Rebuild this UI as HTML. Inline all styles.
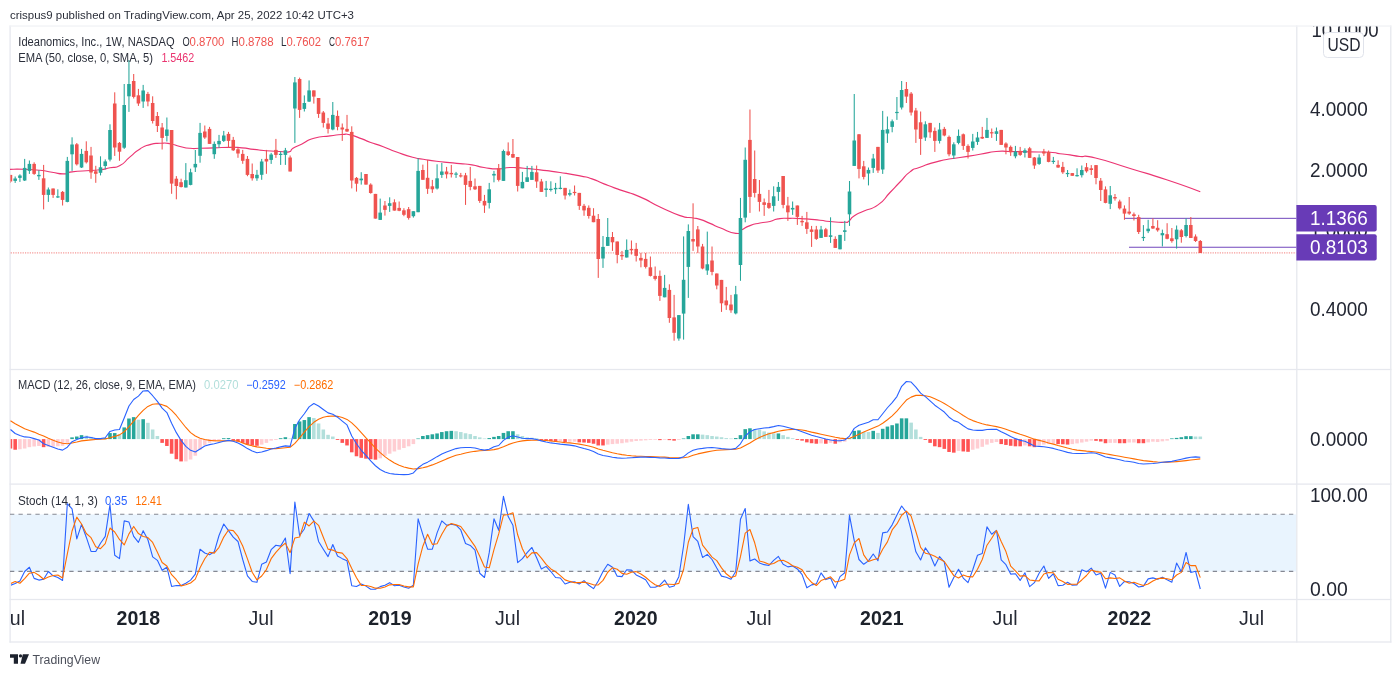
<!DOCTYPE html>
<html><head><meta charset="utf-8"><title>chart</title>
<style>
html,body{margin:0;padding:0;background:#fff;}
svg{display:block;font-family:"Liberation Sans",sans-serif;}
</style></head>
<body>
<svg width="1400" height="676" viewBox="0 0 1400 676">
<defs><filter id="bl" x="0" y="0" width="100%" height="100%" filterUnits="userSpaceOnUse"><feGaussianBlur stdDeviation="0.35"/></filter></defs>
<rect width="1400" height="676" fill="#ffffff"/>
<g filter="url(#bl)">
<rect width="1400" height="676" fill="#ffffff"/>
<rect x="10.7" y="514.4" width="1285.5" height="57.1" fill="#e9f4fe"/>
<rect x="9.45" y="25.5" width="1.3" height="617.1" fill="#e6e8ee"/>
<rect x="1390.15" y="25.5" width="1.3" height="617.1" fill="#e6e8ee"/>
<rect x="1296.15" y="25.5" width="1.3" height="617.1" fill="#e6e8ee"/>
<rect x="9.5" y="641.35" width="1381.9" height="1.3" fill="#e6e8ee"/>
<rect x="9.5" y="368.85" width="1381.9" height="1.3" fill="#e6e8ee"/>
<rect x="9.5" y="483.45" width="1381.9" height="1.3" fill="#e6e8ee"/>
<rect x="9.5" y="598.85" width="1381.9" height="1.3" fill="#e6e8ee"/>
<rect x="9.5" y="25.4" width="1381.9" height="1.3" fill="#f1f2f6"/>
<g stroke="#858893" stroke-width="1.1" stroke-dasharray="4.3 4.17">
<line x1="10" y1="514.3" x2="1296.2" y2="514.3"/>
<line x1="10" y1="571.4" x2="1296.2" y2="571.4"/>
</g>
<line x1="10.7" y1="252.8" x2="1296.2" y2="252.8" stroke="#ef5350" stroke-width="1.19" stroke-dasharray="1.19 1.19" opacity="0.6"/>
<g fill="#673ab7" opacity="0.78">
<rect x="1124.4" y="217.8" width="171.89999999999986" height="1.19"/>
<rect x="1129" y="246.7" width="167.29999999999995" height="1.19"/>
</g>
<path d="M10,169.3 C14.67,169.3 14,168.97 24,169.3 C34,169.63 30.67,169.3 40,170.3 C49.33,171.3 44,171.1 52,172.3 C60,173.5 57.33,174.03 64,173.9 C70.67,173.77 63.33,173.03 72,171.9 C80.67,170.77 80.67,171.2 90,170.5 C99.33,169.8 93.33,170.7 100,169.8 C106.67,168.9 103.33,169.23 110,167.8 C116.67,166.37 113.33,169.13 120,165.5 C126.67,161.87 123.33,162.43 130,156.9 C136.67,151.37 133.33,153 140,148.9 C146.67,144.8 143.33,146.47 150,144.6 C156.67,142.73 153.33,143.6 160,143.3 C166.67,143 163.33,142.63 170,143.7 C176.67,144.77 173.33,144.97 180,146.5 C186.67,148.03 183.33,147.7 190,148.3 C196.67,148.9 192,148.43 200,148.3 C208,148.17 204,148.23 214,147.9 C224,147.57 220.67,147.3 230,147.3 C239.33,147.3 234,147.2 242,147.9 C250,148.6 246,148.47 254,149.4 C262,150.33 257.33,150 266,150.7 C274.67,151.4 272.33,151.1 280,151.5 C287.67,151.9 284.67,152.97 289,151.9 C293.33,150.83 288.67,150.97 293,148.3 C297.33,145.63 295,147.23 302,143.9 C309,140.57 304.67,140.97 314,138.3 C323.33,135.63 320.67,137.17 330,135.9 C339.33,134.63 335.33,134.83 342,134.5 C348.67,134.17 343.33,133.43 350,134.9 C356.67,136.37 355.33,136.47 362,138.9 C368.67,141.33 362.9,139.6 370,142.2 C377.1,144.8 374.43,143.43 383.3,146.7 C392.17,149.97 386.83,148.47 396.6,152 C406.37,155.53 403.73,154.9 412.6,157.3 C421.47,159.7 415.23,157.87 423.2,159.2 C431.17,160.53 427.63,160.17 436.5,161.3 C445.37,162.43 441.97,161.83 449.8,162.6 C457.63,163.37 452.6,162.83 460,163.6 C467.4,164.37 464,163.6 472,164.9 C480,166.2 475.33,166.17 484,167.5 C492.67,168.83 489.33,168.9 498,168.9 C506.67,168.9 501.33,167.7 510,167.5 C518.67,167.3 514,167.5 524,168.3 C534,169.1 528,168.5 540,169.9 C552,171.3 546.67,170.5 560,172.5 C573.33,174.5 569.33,173.77 580,175.9 C590.67,178.03 584,176.23 592,178.9 C600,181.57 594.67,180.23 604,183.9 C613.33,187.57 608,185.57 620,189.9 C632,194.23 626.67,191.23 640,196.9 C653.33,202.57 646.67,200.67 660,206.9 C673.33,213.13 669.33,211.97 680,215.6 C690.67,219.23 685.33,216.53 692,217.8 C698.67,219.07 694,217.53 700,219.4 C706,221.27 703.33,220.6 710,223.4 C716.67,226.2 711.4,224.47 720,227.8 C728.6,231.13 728.53,232.73 735.8,233.4 C743.07,234.07 737.07,232.4 741.8,229.8 C746.53,227.2 743.93,227.87 750,225.6 C756.07,223.33 753.33,224.37 760,223 C766.67,221.63 764,222.87 770,221.5 C776,220.13 771.33,219.97 778,218.9 C784.67,217.83 780.67,218.3 790,218.3 C799.33,218.3 796,218.23 806,218.9 C816,219.57 812,219.43 820,220.3 C828,221.17 822,220.83 830,221.5 C838,222.17 837.67,222.5 844,222.3 C850.33,222.1 845.67,223.03 849,220.9 C852.33,218.77 849,219.23 854,215.9 C859,212.57 856,214.57 864,210.9 C872,207.23 869.33,211.03 878,204.9 C886.67,198.77 882.67,200.13 890,192.5 C897.33,184.87 893.33,188.87 900,182 C906.67,175.13 903.33,176.83 910,171.9 C916.67,166.97 910,170.87 920,167.2 C930,163.53 926.67,164.13 940,160.9 C953.33,157.67 946.67,159.7 960,157.5 C973.33,155.3 968,156.3 980,154.3 C992,152.3 986,152.43 996,151.5 C1006,150.57 998.67,151.37 1010,151.5 C1021.33,151.63 1016.67,151.63 1030,151.9 C1043.33,152.17 1040,151.7 1050,152.3 C1060,152.9 1053.33,152.83 1060,153.7 C1066.67,154.57 1063.33,153.97 1070,154.9 C1076.67,155.83 1071.5,155.47 1080,156.5 C1088.5,157.53 1078.5,153.93 1095.5,158 C1112.5,162.07 1107.3,161.43 1131,168.7 C1154.7,175.97 1143.5,172.13 1166.6,179.8 C1189.7,187.47 1189.07,187.73 1200.3,191.7" fill="none" stroke="#e91e63" stroke-width="1.15" stroke-linejoin="round" opacity="0.9"/>
<clipPath id="cm"><rect x="10.6" y="26" width="1286" height="343"/></clipPath>
<g clip-path="url(#cm)">
<rect x="1199.77" y="240" width="1.05" height="13" fill="#ef5350"/>
<rect x="1198.52" y="241" width="3.56" height="12" fill="#ef5350"/>
<rect x="1195.03" y="234.4" width="1.05" height="7.6" fill="#ef5350"/>
<rect x="1193.78" y="236.5" width="3.56" height="4.5" fill="#ef5350"/>
<rect x="1190.29" y="217" width="1.05" height="21" fill="#ef5350"/>
<rect x="1189.04" y="225" width="3.56" height="13" fill="#ef5350"/>
<rect x="1185.55" y="218.4" width="1.05" height="19" fill="#26a69a"/>
<rect x="1184.3" y="225" width="3.56" height="11" fill="#26a69a"/>
<rect x="1180.81" y="229" width="1.05" height="13.7" fill="#ef5350"/>
<rect x="1179.56" y="230.3" width="3.56" height="6.7" fill="#ef5350"/>
<rect x="1176.07" y="225.5" width="1.05" height="23.1" fill="#26a69a"/>
<rect x="1174.82" y="229.6" width="3.56" height="9.7" fill="#26a69a"/>
<rect x="1171.33" y="228" width="1.05" height="14.7" fill="#ef5350"/>
<rect x="1170.08" y="238.3" width="3.56" height="2.8" fill="#ef5350"/>
<rect x="1166.59" y="223.2" width="1.05" height="16.1" fill="#ef5350"/>
<rect x="1165.34" y="234.2" width="3.56" height="4.6" fill="#ef5350"/>
<rect x="1161.85" y="229.6" width="1.05" height="16.8" fill="#26a69a"/>
<rect x="1160.6" y="233.1" width="3.56" height="2.2" fill="#26a69a"/>
<rect x="1157.11" y="220.2" width="1.05" height="11.5" fill="#ef5350"/>
<rect x="1155.86" y="227.8" width="3.56" height="2.5" fill="#ef5350"/>
<rect x="1152.37" y="218.4" width="1.05" height="10.6" fill="#ef5350"/>
<rect x="1151.12" y="226" width="3.56" height="2.5" fill="#ef5350"/>
<rect x="1147.63" y="219.8" width="1.05" height="13.3" fill="#26a69a"/>
<rect x="1146.38" y="228.7" width="3.56" height="2.5" fill="#26a69a"/>
<rect x="1142.89" y="225.1" width="1.05" height="15.9" fill="#26a69a"/>
<rect x="1141.64" y="236.9" width="3.56" height="1.2" fill="#26a69a"/>
<rect x="1138.15" y="214.8" width="1.05" height="19.2" fill="#ef5350"/>
<rect x="1136.9" y="217.1" width="3.56" height="14.9" fill="#ef5350"/>
<rect x="1133.41" y="212.5" width="1.05" height="8" fill="#ef5350"/>
<rect x="1132.15" y="214.3" width="3.56" height="1.7" fill="#ef5350"/>
<rect x="1128.67" y="197" width="1.05" height="17.8" fill="#ef5350"/>
<rect x="1127.41" y="211.6" width="3.56" height="2" fill="#ef5350"/>
<rect x="1123.93" y="205.4" width="1.05" height="14.4" fill="#ef5350"/>
<rect x="1122.67" y="208.6" width="3.56" height="5" fill="#ef5350"/>
<rect x="1119.19" y="199.7" width="1.05" height="9.8" fill="#ef5350"/>
<rect x="1117.93" y="201.5" width="3.56" height="6.8" fill="#ef5350"/>
<rect x="1114.45" y="194" width="1.05" height="6.6" fill="#ef5350"/>
<rect x="1113.19" y="197" width="3.56" height="1.5" fill="#ef5350"/>
<rect x="1109.71" y="186" width="1.05" height="23.1" fill="#26a69a"/>
<rect x="1108.45" y="195.3" width="3.56" height="8.5" fill="#26a69a"/>
<rect x="1104.96" y="186.4" width="1.05" height="16.9" fill="#ef5350"/>
<rect x="1103.71" y="189.4" width="3.56" height="13.5" fill="#ef5350"/>
<rect x="1100.22" y="178" width="1.05" height="23" fill="#ef5350"/>
<rect x="1098.97" y="180.7" width="3.56" height="9.3" fill="#ef5350"/>
<rect x="1095.48" y="165.1" width="1.05" height="19.2" fill="#ef5350"/>
<rect x="1094.23" y="165.1" width="3.56" height="12.9" fill="#ef5350"/>
<rect x="1090.74" y="165.1" width="1.05" height="9.8" fill="#ef5350"/>
<rect x="1089.49" y="168.3" width="3.56" height="1.7" fill="#ef5350"/>
<rect x="1086" y="163" width="1.05" height="9.7" fill="#ef5350"/>
<rect x="1084.75" y="167.2" width="3.56" height="4.1" fill="#ef5350"/>
<rect x="1081.26" y="165.5" width="1.05" height="12" fill="#26a69a"/>
<rect x="1080.01" y="170" width="3.56" height="5.2" fill="#26a69a"/>
<rect x="1076.52" y="168.3" width="1.05" height="8.3" fill="#26a69a"/>
<rect x="1075.27" y="175.05" width="3.56" height="1.2" fill="#26a69a"/>
<rect x="1071.78" y="173.1" width="1.05" height="2.7" fill="#ef5350"/>
<rect x="1070.53" y="173.1" width="3.56" height="2.7" fill="#ef5350"/>
<rect x="1067.04" y="170" width="1.05" height="7" fill="#26a69a"/>
<rect x="1065.79" y="172.95" width="3.56" height="1.2" fill="#26a69a"/>
<rect x="1062.3" y="161.9" width="1.05" height="12" fill="#ef5350"/>
<rect x="1061.05" y="166.9" width="3.56" height="5.4" fill="#ef5350"/>
<rect x="1057.56" y="160.3" width="1.05" height="7.6" fill="#ef5350"/>
<rect x="1056.31" y="164.9" width="3.56" height="2.6" fill="#ef5350"/>
<rect x="1052.82" y="156.9" width="1.05" height="7" fill="#26a69a"/>
<rect x="1051.57" y="160.8" width="3.56" height="1.2" fill="#26a69a"/>
<rect x="1048.08" y="150.5" width="1.05" height="11.8" fill="#ef5350"/>
<rect x="1046.83" y="151.9" width="3.56" height="10" fill="#ef5350"/>
<rect x="1043.34" y="148.9" width="1.05" height="7" fill="#ef5350"/>
<rect x="1042.09" y="151.5" width="3.56" height="2" fill="#ef5350"/>
<rect x="1038.6" y="154.3" width="1.05" height="10.6" fill="#26a69a"/>
<rect x="1037.34" y="157.5" width="3.56" height="6.4" fill="#26a69a"/>
<rect x="1033.86" y="157" width="1.05" height="11.9" fill="#ef5350"/>
<rect x="1032.6" y="157.5" width="3.56" height="8" fill="#ef5350"/>
<rect x="1029.12" y="146.9" width="1.05" height="11" fill="#ef5350"/>
<rect x="1027.86" y="148.3" width="3.56" height="9.6" fill="#ef5350"/>
<rect x="1024.38" y="148.3" width="1.05" height="9.2" fill="#26a69a"/>
<rect x="1023.12" y="150.3" width="3.56" height="2.6" fill="#26a69a"/>
<rect x="1019.64" y="146.9" width="1.05" height="9" fill="#ef5350"/>
<rect x="1018.38" y="150.9" width="3.56" height="4" fill="#ef5350"/>
<rect x="1014.9" y="145.9" width="1.05" height="12.4" fill="#26a69a"/>
<rect x="1013.64" y="151.5" width="3.56" height="4.8" fill="#26a69a"/>
<rect x="1010.15" y="145.5" width="1.05" height="10.4" fill="#ef5350"/>
<rect x="1008.9" y="146.9" width="3.56" height="5.4" fill="#ef5350"/>
<rect x="1005.41" y="142.3" width="1.05" height="12" fill="#ef5350"/>
<rect x="1004.16" y="143.5" width="3.56" height="4" fill="#ef5350"/>
<rect x="1000.67" y="129.9" width="1.05" height="15" fill="#ef5350"/>
<rect x="999.42" y="129.9" width="3.56" height="15" fill="#ef5350"/>
<rect x="995.93" y="127.5" width="1.05" height="13.4" fill="#26a69a"/>
<rect x="994.68" y="131.3" width="3.56" height="2.6" fill="#26a69a"/>
<rect x="991.19" y="128.5" width="1.05" height="9.4" fill="#ef5350"/>
<rect x="989.94" y="132.2" width="3.56" height="1.2" fill="#ef5350"/>
<rect x="986.45" y="117.9" width="1.05" height="20" fill="#26a69a"/>
<rect x="985.2" y="129.9" width="3.56" height="8" fill="#26a69a"/>
<rect x="981.71" y="126.9" width="1.05" height="12.1" fill="#ef5350"/>
<rect x="980.46" y="136.9" width="3.56" height="1.6" fill="#ef5350"/>
<rect x="976.97" y="131.9" width="1.05" height="13" fill="#26a69a"/>
<rect x="975.72" y="137.5" width="3.56" height="4.4" fill="#26a69a"/>
<rect x="972.23" y="133.9" width="1.05" height="16.6" fill="#26a69a"/>
<rect x="970.98" y="141.5" width="3.56" height="6.4" fill="#26a69a"/>
<rect x="967.49" y="144.3" width="1.05" height="14.2" fill="#ef5350"/>
<rect x="966.24" y="145.9" width="3.56" height="6" fill="#ef5350"/>
<rect x="962.75" y="133.5" width="1.05" height="16.4" fill="#ef5350"/>
<rect x="961.5" y="134.3" width="3.56" height="11.6" fill="#ef5350"/>
<rect x="958.01" y="129.5" width="1.05" height="14.8" fill="#26a69a"/>
<rect x="956.76" y="135.9" width="3.56" height="7" fill="#26a69a"/>
<rect x="953.27" y="142.3" width="1.05" height="16.6" fill="#26a69a"/>
<rect x="952.02" y="144.3" width="3.56" height="11.2" fill="#26a69a"/>
<rect x="948.53" y="135.5" width="1.05" height="20.8" fill="#ef5350"/>
<rect x="947.28" y="136.9" width="3.56" height="17.4" fill="#ef5350"/>
<rect x="943.79" y="126.9" width="1.05" height="9.4" fill="#ef5350"/>
<rect x="942.53" y="128.9" width="3.56" height="6.6" fill="#ef5350"/>
<rect x="939.05" y="122.9" width="1.05" height="20.6" fill="#26a69a"/>
<rect x="937.79" y="129.5" width="3.56" height="11.4" fill="#26a69a"/>
<rect x="934.31" y="127.5" width="1.05" height="24.4" fill="#ef5350"/>
<rect x="933.05" y="130.9" width="3.56" height="10" fill="#ef5350"/>
<rect x="929.57" y="122.9" width="1.05" height="15" fill="#ef5350"/>
<rect x="928.31" y="122.9" width="3.56" height="9.4" fill="#ef5350"/>
<rect x="924.83" y="121.3" width="1.05" height="19.6" fill="#26a69a"/>
<rect x="923.57" y="124.3" width="3.56" height="13.2" fill="#26a69a"/>
<rect x="920.09" y="111.5" width="1.05" height="43.4" fill="#ef5350"/>
<rect x="918.83" y="122.3" width="3.56" height="16.6" fill="#ef5350"/>
<rect x="915.34" y="107.9" width="1.05" height="35" fill="#ef5350"/>
<rect x="914.09" y="110.5" width="3.56" height="19" fill="#ef5350"/>
<rect x="910.6" y="92" width="1.05" height="23.5" fill="#ef5350"/>
<rect x="909.35" y="93.6" width="3.56" height="18.9" fill="#ef5350"/>
<rect x="905.86" y="82" width="1.05" height="21" fill="#ef5350"/>
<rect x="904.61" y="89" width="3.56" height="7.6" fill="#ef5350"/>
<rect x="901.12" y="81" width="1.05" height="28.5" fill="#26a69a"/>
<rect x="899.87" y="90" width="3.56" height="17.5" fill="#26a69a"/>
<rect x="896.38" y="97" width="1.05" height="22.9" fill="#26a69a"/>
<rect x="895.13" y="111.9" width="3.56" height="1.2" fill="#26a69a"/>
<rect x="891.64" y="119.5" width="1.05" height="12.8" fill="#26a69a"/>
<rect x="890.39" y="121.3" width="3.56" height="5.6" fill="#26a69a"/>
<rect x="886.9" y="116.5" width="1.05" height="26.4" fill="#26a69a"/>
<rect x="885.65" y="129.3" width="3.56" height="4.2" fill="#26a69a"/>
<rect x="882.16" y="110.9" width="1.05" height="63" fill="#26a69a"/>
<rect x="880.91" y="129.9" width="3.56" height="39.6" fill="#26a69a"/>
<rect x="877.42" y="146.9" width="1.05" height="26" fill="#ef5350"/>
<rect x="876.17" y="146.9" width="3.56" height="23.6" fill="#ef5350"/>
<rect x="872.68" y="153.9" width="1.05" height="19" fill="#26a69a"/>
<rect x="871.43" y="158.5" width="3.56" height="9.4" fill="#26a69a"/>
<rect x="867.94" y="167.5" width="1.05" height="17.9" fill="#26a69a"/>
<rect x="866.69" y="169.9" width="3.56" height="3.6" fill="#26a69a"/>
<rect x="863.2" y="160.9" width="1.05" height="18.5" fill="#ef5350"/>
<rect x="861.95" y="166.3" width="3.56" height="10.6" fill="#ef5350"/>
<rect x="858.46" y="134" width="1.05" height="44.4" fill="#ef5350"/>
<rect x="857.21" y="134.3" width="3.56" height="34.6" fill="#ef5350"/>
<rect x="853.72" y="94" width="1.05" height="71.9" fill="#26a69a"/>
<rect x="852.47" y="140.5" width="3.56" height="25.4" fill="#26a69a"/>
<rect x="848.98" y="181" width="1.05" height="44.9" fill="#26a69a"/>
<rect x="847.72" y="191.5" width="3.56" height="22.8" fill="#26a69a"/>
<rect x="844.24" y="220.9" width="1.05" height="20" fill="#26a69a"/>
<rect x="842.98" y="230.3" width="3.56" height="1.6" fill="#26a69a"/>
<rect x="839.5" y="234.9" width="1.05" height="14.4" fill="#26a69a"/>
<rect x="838.24" y="234.9" width="3.56" height="14.4" fill="#26a69a"/>
<rect x="834.76" y="236.3" width="1.05" height="11.6" fill="#ef5350"/>
<rect x="833.5" y="238.9" width="3.56" height="9" fill="#ef5350"/>
<rect x="830.02" y="217.3" width="1.05" height="25.6" fill="#26a69a"/>
<rect x="828.76" y="235.3" width="3.56" height="1.6" fill="#26a69a"/>
<rect x="825.28" y="227.9" width="1.05" height="9" fill="#ef5350"/>
<rect x="824.02" y="229.3" width="3.56" height="7.6" fill="#ef5350"/>
<rect x="820.53" y="225.9" width="1.05" height="12" fill="#26a69a"/>
<rect x="819.28" y="229.5" width="3.56" height="8.4" fill="#26a69a"/>
<rect x="815.79" y="225.9" width="1.05" height="14" fill="#ef5350"/>
<rect x="814.54" y="229.5" width="3.56" height="9.4" fill="#ef5350"/>
<rect x="811.05" y="225.9" width="1.05" height="21" fill="#ef5350"/>
<rect x="809.8" y="229.5" width="3.56" height="2.4" fill="#ef5350"/>
<rect x="806.31" y="211.9" width="1.05" height="22" fill="#ef5350"/>
<rect x="805.06" y="222.3" width="3.56" height="6.6" fill="#ef5350"/>
<rect x="801.57" y="215.9" width="1.05" height="10" fill="#ef5350"/>
<rect x="800.32" y="220.9" width="3.56" height="1.4" fill="#ef5350"/>
<rect x="796.83" y="205.5" width="1.05" height="19.4" fill="#ef5350"/>
<rect x="795.58" y="205.5" width="3.56" height="11.4" fill="#ef5350"/>
<rect x="792.09" y="201.5" width="1.05" height="13.4" fill="#26a69a"/>
<rect x="790.84" y="207.9" width="3.56" height="1.6" fill="#26a69a"/>
<rect x="787.35" y="196.9" width="1.05" height="24" fill="#ef5350"/>
<rect x="786.1" y="205.5" width="3.56" height="6.8" fill="#ef5350"/>
<rect x="782.61" y="176" width="1.05" height="32.3" fill="#ef5350"/>
<rect x="781.36" y="176" width="3.56" height="28.9" fill="#ef5350"/>
<rect x="777.87" y="182" width="1.05" height="18.9" fill="#26a69a"/>
<rect x="776.62" y="186.9" width="3.56" height="5" fill="#26a69a"/>
<rect x="773.13" y="186.3" width="1.05" height="25.2" fill="#26a69a"/>
<rect x="771.88" y="196.3" width="3.56" height="9.6" fill="#26a69a"/>
<rect x="768.39" y="189.9" width="1.05" height="19" fill="#ef5350"/>
<rect x="767.14" y="202.9" width="3.56" height="5" fill="#ef5350"/>
<rect x="763.65" y="198.5" width="1.05" height="17.4" fill="#ef5350"/>
<rect x="762.4" y="202.3" width="3.56" height="2.6" fill="#ef5350"/>
<rect x="758.91" y="180" width="1.05" height="31.5" fill="#ef5350"/>
<rect x="757.66" y="193.9" width="3.56" height="8" fill="#ef5350"/>
<rect x="754.17" y="150.5" width="1.05" height="47" fill="#ef5350"/>
<rect x="752.91" y="179" width="3.56" height="13.9" fill="#ef5350"/>
<rect x="749.43" y="109.5" width="1.05" height="103.4" fill="#ef5350"/>
<rect x="748.17" y="139.9" width="3.56" height="57" fill="#ef5350"/>
<rect x="744.69" y="147.5" width="1.05" height="74.8" fill="#26a69a"/>
<rect x="743.43" y="159.8" width="3.56" height="57.8" fill="#26a69a"/>
<rect x="739.95" y="197.9" width="1.05" height="82.9" fill="#26a69a"/>
<rect x="738.69" y="218" width="3.56" height="47" fill="#26a69a"/>
<rect x="735.21" y="285.9" width="1.05" height="28.5" fill="#26a69a"/>
<rect x="733.95" y="294.3" width="3.56" height="19.1" fill="#26a69a"/>
<rect x="730.47" y="294.9" width="1.05" height="17.9" fill="#ef5350"/>
<rect x="729.21" y="304.5" width="3.56" height="5.8" fill="#ef5350"/>
<rect x="725.73" y="286.9" width="1.05" height="23" fill="#ef5350"/>
<rect x="724.47" y="300.5" width="3.56" height="4.8" fill="#ef5350"/>
<rect x="720.98" y="279.9" width="1.05" height="32" fill="#ef5350"/>
<rect x="719.73" y="279.9" width="3.56" height="23.4" fill="#ef5350"/>
<rect x="716.24" y="273.5" width="1.05" height="15.8" fill="#ef5350"/>
<rect x="714.99" y="273.5" width="3.56" height="12" fill="#ef5350"/>
<rect x="711.5" y="246.5" width="1.05" height="28.8" fill="#ef5350"/>
<rect x="710.25" y="260.5" width="3.56" height="11.4" fill="#ef5350"/>
<rect x="706.76" y="231.6" width="1.05" height="43.3" fill="#26a69a"/>
<rect x="705.51" y="264.3" width="3.56" height="6.2" fill="#26a69a"/>
<rect x="702.02" y="243.9" width="1.05" height="25.4" fill="#ef5350"/>
<rect x="700.77" y="246.5" width="3.56" height="22" fill="#ef5350"/>
<rect x="697.28" y="226" width="1.05" height="26.9" fill="#ef5350"/>
<rect x="696.03" y="229.4" width="3.56" height="17.1" fill="#ef5350"/>
<rect x="692.54" y="203.3" width="1.05" height="47.6" fill="#ef5350"/>
<rect x="691.29" y="239" width="3.56" height="2.5" fill="#ef5350"/>
<rect x="687.8" y="224.4" width="1.05" height="73.5" fill="#26a69a"/>
<rect x="686.55" y="231" width="3.56" height="35.9" fill="#26a69a"/>
<rect x="683.06" y="236.4" width="1.05" height="103.2" fill="#26a69a"/>
<rect x="681.81" y="279.8" width="3.56" height="33.8" fill="#26a69a"/>
<rect x="678.32" y="315.1" width="1.05" height="25.6" fill="#26a69a"/>
<rect x="677.07" y="315.1" width="3.56" height="23.4" fill="#26a69a"/>
<rect x="673.58" y="294.9" width="1.05" height="45.8" fill="#ef5350"/>
<rect x="672.33" y="317.4" width="3.56" height="15.4" fill="#ef5350"/>
<rect x="668.84" y="284.3" width="1.05" height="38.5" fill="#ef5350"/>
<rect x="667.59" y="289.9" width="3.56" height="28.1" fill="#ef5350"/>
<rect x="664.1" y="274.9" width="1.05" height="22.4" fill="#26a69a"/>
<rect x="662.85" y="287.9" width="3.56" height="9.4" fill="#26a69a"/>
<rect x="659.36" y="270.5" width="1.05" height="30.4" fill="#ef5350"/>
<rect x="658.1" y="275.9" width="3.56" height="20" fill="#ef5350"/>
<rect x="654.62" y="266.5" width="1.05" height="14" fill="#ef5350"/>
<rect x="653.36" y="275.9" width="3.56" height="3" fill="#ef5350"/>
<rect x="649.88" y="256.5" width="1.05" height="20" fill="#ef5350"/>
<rect x="648.62" y="267.3" width="3.56" height="8.6" fill="#ef5350"/>
<rect x="645.14" y="252.9" width="1.05" height="15.6" fill="#ef5350"/>
<rect x="643.88" y="258.9" width="3.56" height="8" fill="#ef5350"/>
<rect x="640.4" y="252.9" width="1.05" height="14.4" fill="#ef5350"/>
<rect x="639.14" y="257.9" width="3.56" height="2.6" fill="#ef5350"/>
<rect x="635.66" y="242.9" width="1.05" height="18.6" fill="#ef5350"/>
<rect x="634.4" y="248.9" width="3.56" height="7" fill="#ef5350"/>
<rect x="630.91" y="240.5" width="1.05" height="14" fill="#ef5350"/>
<rect x="629.66" y="248.9" width="3.56" height="1.4" fill="#ef5350"/>
<rect x="626.17" y="239.4" width="1.05" height="18.1" fill="#26a69a"/>
<rect x="624.92" y="249.9" width="3.56" height="7.6" fill="#26a69a"/>
<rect x="621.43" y="250.9" width="1.05" height="9" fill="#ef5350"/>
<rect x="620.18" y="254.9" width="3.56" height="1.4" fill="#ef5350"/>
<rect x="616.69" y="241.5" width="1.05" height="21.8" fill="#ef5350"/>
<rect x="615.44" y="241.5" width="3.56" height="13.4" fill="#ef5350"/>
<rect x="611.95" y="232" width="1.05" height="18.9" fill="#ef5350"/>
<rect x="610.7" y="237" width="3.56" height="5.3" fill="#ef5350"/>
<rect x="607.21" y="218" width="1.05" height="27.9" fill="#26a69a"/>
<rect x="605.96" y="237" width="3.56" height="8.9" fill="#26a69a"/>
<rect x="602.47" y="236" width="1.05" height="31.9" fill="#26a69a"/>
<rect x="601.22" y="246.9" width="3.56" height="11.6" fill="#26a69a"/>
<rect x="597.73" y="214" width="1.05" height="63.9" fill="#ef5350"/>
<rect x="596.48" y="219" width="3.56" height="40" fill="#ef5350"/>
<rect x="592.99" y="208.2" width="1.05" height="14" fill="#ef5350"/>
<rect x="591.74" y="215.7" width="3.56" height="6.5" fill="#ef5350"/>
<rect x="588.25" y="205.4" width="1.05" height="13.2" fill="#ef5350"/>
<rect x="587" y="207.8" width="3.56" height="8.2" fill="#ef5350"/>
<rect x="583.51" y="203.9" width="1.05" height="11.9" fill="#ef5350"/>
<rect x="582.26" y="205.8" width="3.56" height="4.6" fill="#ef5350"/>
<rect x="578.77" y="192.9" width="1.05" height="17" fill="#ef5350"/>
<rect x="577.52" y="192.9" width="3.56" height="13" fill="#ef5350"/>
<rect x="574.03" y="185.5" width="1.05" height="10" fill="#ef5350"/>
<rect x="572.78" y="191.9" width="3.56" height="1.2" fill="#ef5350"/>
<rect x="569.29" y="189.5" width="1.05" height="6.8" fill="#26a69a"/>
<rect x="568.04" y="193.1" width="3.56" height="1.6" fill="#26a69a"/>
<rect x="564.55" y="187.9" width="1.05" height="11.6" fill="#ef5350"/>
<rect x="563.29" y="187.9" width="3.56" height="7.6" fill="#ef5350"/>
<rect x="559.81" y="176.3" width="1.05" height="13" fill="#26a69a"/>
<rect x="558.55" y="187.8" width="3.56" height="1.2" fill="#26a69a"/>
<rect x="555.07" y="182.9" width="1.05" height="11" fill="#26a69a"/>
<rect x="553.81" y="187.9" width="3.56" height="1.4" fill="#26a69a"/>
<rect x="550.33" y="181.3" width="1.05" height="10.2" fill="#26a69a"/>
<rect x="549.07" y="188.8" width="3.56" height="1.2" fill="#26a69a"/>
<rect x="545.59" y="180.9" width="1.05" height="16" fill="#26a69a"/>
<rect x="544.33" y="188.5" width="3.56" height="1.4" fill="#26a69a"/>
<rect x="540.85" y="178.9" width="1.05" height="13" fill="#ef5350"/>
<rect x="539.59" y="181.5" width="3.56" height="10.4" fill="#ef5350"/>
<rect x="536.11" y="165.5" width="1.05" height="22.4" fill="#ef5350"/>
<rect x="534.85" y="172.3" width="3.56" height="9.2" fill="#ef5350"/>
<rect x="531.36" y="165.9" width="1.05" height="14" fill="#26a69a"/>
<rect x="530.11" y="171.9" width="3.56" height="8" fill="#26a69a"/>
<rect x="526.62" y="165.9" width="1.05" height="16" fill="#26a69a"/>
<rect x="525.37" y="177.3" width="3.56" height="4.6" fill="#26a69a"/>
<rect x="521.88" y="171.9" width="1.05" height="16.4" fill="#26a69a"/>
<rect x="520.63" y="181.9" width="3.56" height="6.4" fill="#26a69a"/>
<rect x="517.14" y="157" width="1.05" height="34.5" fill="#ef5350"/>
<rect x="515.89" y="157" width="3.56" height="28.9" fill="#ef5350"/>
<rect x="512.4" y="139" width="1.05" height="19" fill="#ef5350"/>
<rect x="511.15" y="154" width="3.56" height="3.6" fill="#ef5350"/>
<rect x="507.66" y="142.4" width="1.05" height="13.6" fill="#ef5350"/>
<rect x="506.41" y="151.4" width="3.56" height="3.6" fill="#ef5350"/>
<rect x="502.92" y="149.6" width="1.05" height="31.3" fill="#26a69a"/>
<rect x="501.67" y="151" width="3.56" height="29.9" fill="#26a69a"/>
<rect x="498.18" y="164" width="1.05" height="17.5" fill="#ef5350"/>
<rect x="496.93" y="168.3" width="3.56" height="11.6" fill="#ef5350"/>
<rect x="493.44" y="170.9" width="1.05" height="11.4" fill="#26a69a"/>
<rect x="492.19" y="173.9" width="3.56" height="1.6" fill="#26a69a"/>
<rect x="488.7" y="182.9" width="1.05" height="25.6" fill="#26a69a"/>
<rect x="487.45" y="189.3" width="3.56" height="13.6" fill="#26a69a"/>
<rect x="483.96" y="194.9" width="1.05" height="18" fill="#ef5350"/>
<rect x="482.71" y="200.9" width="3.56" height="4.6" fill="#ef5350"/>
<rect x="479.22" y="185.9" width="1.05" height="17" fill="#ef5350"/>
<rect x="477.97" y="185.9" width="3.56" height="15" fill="#ef5350"/>
<rect x="474.48" y="178.5" width="1.05" height="11.5" fill="#ef5350"/>
<rect x="473.23" y="186.3" width="3.56" height="3" fill="#ef5350"/>
<rect x="469.74" y="166.9" width="1.05" height="23.4" fill="#ef5350"/>
<rect x="468.48" y="180.9" width="3.56" height="6" fill="#ef5350"/>
<rect x="465" y="172.9" width="1.05" height="32" fill="#ef5350"/>
<rect x="463.74" y="175.3" width="3.56" height="9.6" fill="#ef5350"/>
<rect x="460.26" y="172.9" width="1.05" height="4.6" fill="#ef5350"/>
<rect x="459" y="175.3" width="3.56" height="1.2" fill="#ef5350"/>
<rect x="455.52" y="171.9" width="1.05" height="6" fill="#26a69a"/>
<rect x="454.26" y="173.5" width="3.56" height="1.2" fill="#26a69a"/>
<rect x="450.78" y="164.9" width="1.05" height="12.6" fill="#ef5350"/>
<rect x="449.52" y="172.9" width="3.56" height="1.4" fill="#ef5350"/>
<rect x="446.04" y="166.9" width="1.05" height="11.6" fill="#ef5350"/>
<rect x="444.78" y="171.5" width="3.56" height="2.8" fill="#ef5350"/>
<rect x="441.29" y="162.9" width="1.05" height="15" fill="#26a69a"/>
<rect x="440.04" y="171.5" width="3.56" height="3.4" fill="#26a69a"/>
<rect x="436.55" y="164.3" width="1.05" height="25.2" fill="#26a69a"/>
<rect x="435.3" y="178.3" width="3.56" height="10.2" fill="#26a69a"/>
<rect x="431.81" y="179.9" width="1.05" height="13" fill="#ef5350"/>
<rect x="430.56" y="186.3" width="3.56" height="3" fill="#ef5350"/>
<rect x="427.07" y="160" width="1.05" height="33.9" fill="#ef5350"/>
<rect x="425.82" y="177.8" width="3.56" height="11" fill="#ef5350"/>
<rect x="422.33" y="164.6" width="1.05" height="15.2" fill="#ef5350"/>
<rect x="421.08" y="170" width="3.56" height="9.8" fill="#ef5350"/>
<rect x="417.59" y="158.2" width="1.05" height="54" fill="#26a69a"/>
<rect x="416.34" y="170.9" width="3.56" height="41.3" fill="#26a69a"/>
<rect x="412.85" y="211.2" width="1.05" height="6.4" fill="#26a69a"/>
<rect x="411.6" y="211.2" width="3.56" height="5" fill="#26a69a"/>
<rect x="408.11" y="207" width="1.05" height="12.6" fill="#ef5350"/>
<rect x="406.86" y="209.2" width="3.56" height="8.7" fill="#ef5350"/>
<rect x="403.37" y="208.2" width="1.05" height="8" fill="#ef5350"/>
<rect x="402.12" y="210.3" width="3.56" height="4.5" fill="#ef5350"/>
<rect x="398.63" y="201.5" width="1.05" height="9.7" fill="#ef5350"/>
<rect x="397.38" y="207.9" width="3.56" height="2.9" fill="#ef5350"/>
<rect x="393.89" y="199.3" width="1.05" height="11.3" fill="#ef5350"/>
<rect x="392.64" y="202.3" width="3.56" height="8.3" fill="#ef5350"/>
<rect x="389.15" y="197.3" width="1.05" height="14.6" fill="#26a69a"/>
<rect x="387.9" y="203.2" width="3.56" height="2.7" fill="#26a69a"/>
<rect x="384.41" y="201" width="1.05" height="14.6" fill="#ef5350"/>
<rect x="383.16" y="205.5" width="3.56" height="4.4" fill="#ef5350"/>
<rect x="379.67" y="198.6" width="1.05" height="21.3" fill="#26a69a"/>
<rect x="378.42" y="212.6" width="3.56" height="7.3" fill="#26a69a"/>
<rect x="374.93" y="193.9" width="1.05" height="24.7" fill="#ef5350"/>
<rect x="373.67" y="193.9" width="3.56" height="24.7" fill="#ef5350"/>
<rect x="370.19" y="183.3" width="1.05" height="10.4" fill="#ef5350"/>
<rect x="368.93" y="184.6" width="3.56" height="8.4" fill="#ef5350"/>
<rect x="365.45" y="174" width="1.05" height="10.6" fill="#ef5350"/>
<rect x="364.19" y="174" width="3.56" height="10.6" fill="#ef5350"/>
<rect x="360.71" y="172.2" width="1.05" height="12.4" fill="#26a69a"/>
<rect x="359.45" y="178.6" width="3.56" height="1.7" fill="#26a69a"/>
<rect x="355.97" y="177" width="1.05" height="14.6" fill="#ef5350"/>
<rect x="354.71" y="177.9" width="3.56" height="5.8" fill="#ef5350"/>
<rect x="351.23" y="126.3" width="1.05" height="62.1" fill="#ef5350"/>
<rect x="349.97" y="131.9" width="3.56" height="48.6" fill="#ef5350"/>
<rect x="346.49" y="114.9" width="1.05" height="17.1" fill="#ef5350"/>
<rect x="345.23" y="128.9" width="3.56" height="2.6" fill="#ef5350"/>
<rect x="341.74" y="123.5" width="1.05" height="17.4" fill="#ef5350"/>
<rect x="340.49" y="127.5" width="3.56" height="2" fill="#ef5350"/>
<rect x="337" y="110.5" width="1.05" height="19.8" fill="#ef5350"/>
<rect x="335.75" y="115.9" width="3.56" height="11" fill="#ef5350"/>
<rect x="332.26" y="102" width="1.05" height="28.3" fill="#26a69a"/>
<rect x="331.01" y="114.9" width="3.56" height="14.6" fill="#26a69a"/>
<rect x="327.52" y="117.9" width="1.05" height="15.6" fill="#ef5350"/>
<rect x="326.27" y="123.5" width="3.56" height="5.4" fill="#ef5350"/>
<rect x="322.78" y="111" width="1.05" height="16.5" fill="#ef5350"/>
<rect x="321.53" y="112.5" width="3.56" height="10.4" fill="#ef5350"/>
<rect x="318.04" y="98" width="1.05" height="19.9" fill="#ef5350"/>
<rect x="316.79" y="98" width="3.56" height="15.9" fill="#ef5350"/>
<rect x="313.3" y="90.4" width="1.05" height="13.2" fill="#ef5350"/>
<rect x="312.05" y="90.4" width="3.56" height="6.2" fill="#ef5350"/>
<rect x="308.56" y="80.4" width="1.05" height="21.6" fill="#26a69a"/>
<rect x="307.31" y="90.4" width="3.56" height="11.2" fill="#26a69a"/>
<rect x="303.82" y="95.4" width="1.05" height="16.1" fill="#26a69a"/>
<rect x="302.57" y="103" width="3.56" height="5.9" fill="#26a69a"/>
<rect x="299.08" y="77.6" width="1.05" height="40.3" fill="#ef5350"/>
<rect x="297.83" y="79" width="3.56" height="30.9" fill="#ef5350"/>
<rect x="294.34" y="77" width="1.05" height="65.9" fill="#26a69a"/>
<rect x="293.09" y="82.4" width="3.56" height="26.1" fill="#26a69a"/>
<rect x="289.6" y="155.5" width="1.05" height="16" fill="#ef5350"/>
<rect x="288.35" y="157.5" width="3.56" height="14" fill="#ef5350"/>
<rect x="284.86" y="147.9" width="1.05" height="17" fill="#26a69a"/>
<rect x="283.61" y="150.3" width="3.56" height="4.6" fill="#26a69a"/>
<rect x="280.12" y="151.5" width="1.05" height="13.4" fill="#26a69a"/>
<rect x="278.86" y="153.8" width="3.56" height="1.2" fill="#26a69a"/>
<rect x="275.38" y="138.9" width="1.05" height="19" fill="#ef5350"/>
<rect x="274.12" y="149.9" width="3.56" height="5" fill="#ef5350"/>
<rect x="270.64" y="152.9" width="1.05" height="11" fill="#26a69a"/>
<rect x="269.38" y="154.5" width="3.56" height="5.4" fill="#26a69a"/>
<rect x="265.9" y="149.9" width="1.05" height="23.9" fill="#ef5350"/>
<rect x="264.64" y="158.9" width="3.56" height="2.6" fill="#ef5350"/>
<rect x="261.16" y="158.9" width="1.05" height="20.9" fill="#26a69a"/>
<rect x="259.9" y="161.5" width="3.56" height="13.3" fill="#26a69a"/>
<rect x="256.42" y="169.9" width="1.05" height="10.9" fill="#26a69a"/>
<rect x="255.16" y="174.8" width="3.56" height="3.5" fill="#26a69a"/>
<rect x="251.67" y="163.5" width="1.05" height="17.1" fill="#ef5350"/>
<rect x="250.42" y="174" width="3.56" height="4.3" fill="#ef5350"/>
<rect x="246.93" y="156" width="1.05" height="20.2" fill="#ef5350"/>
<rect x="245.68" y="158.9" width="3.56" height="16" fill="#ef5350"/>
<rect x="242.19" y="149.9" width="1.05" height="13.9" fill="#ef5350"/>
<rect x="240.94" y="153.9" width="3.56" height="6.9" fill="#ef5350"/>
<rect x="237.45" y="147.5" width="1.05" height="10.3" fill="#ef5350"/>
<rect x="236.2" y="149.3" width="3.56" height="4.2" fill="#ef5350"/>
<rect x="232.71" y="136.9" width="1.05" height="14.1" fill="#ef5350"/>
<rect x="231.46" y="139.9" width="3.56" height="10.4" fill="#ef5350"/>
<rect x="227.97" y="131.9" width="1.05" height="16" fill="#ef5350"/>
<rect x="226.72" y="133.9" width="3.56" height="7" fill="#ef5350"/>
<rect x="223.23" y="130.9" width="1.05" height="11.1" fill="#26a69a"/>
<rect x="221.98" y="135.5" width="3.56" height="5.4" fill="#26a69a"/>
<rect x="218.49" y="134.9" width="1.05" height="13" fill="#26a69a"/>
<rect x="217.24" y="140.9" width="3.56" height="3.4" fill="#26a69a"/>
<rect x="213.75" y="141.5" width="1.05" height="17.3" fill="#26a69a"/>
<rect x="212.5" y="143.9" width="3.56" height="10.3" fill="#26a69a"/>
<rect x="209.01" y="126.9" width="1.05" height="17" fill="#ef5350"/>
<rect x="207.76" y="128.9" width="3.56" height="15" fill="#ef5350"/>
<rect x="204.27" y="125.5" width="1.05" height="13.4" fill="#ef5350"/>
<rect x="203.02" y="131.5" width="3.56" height="6" fill="#ef5350"/>
<rect x="199.53" y="122.9" width="1.05" height="39.8" fill="#26a69a"/>
<rect x="198.28" y="132.9" width="3.56" height="22.9" fill="#26a69a"/>
<rect x="194.79" y="150" width="1.05" height="22" fill="#26a69a"/>
<rect x="193.54" y="163.9" width="3.56" height="3.5" fill="#26a69a"/>
<rect x="190.05" y="168.7" width="1.05" height="16.6" fill="#26a69a"/>
<rect x="188.8" y="172.3" width="3.56" height="12.6" fill="#26a69a"/>
<rect x="185.31" y="163.1" width="1.05" height="24.4" fill="#26a69a"/>
<rect x="184.05" y="180.2" width="3.56" height="7.3" fill="#26a69a"/>
<rect x="180.57" y="178.7" width="1.05" height="8.8" fill="#ef5350"/>
<rect x="179.31" y="182.2" width="3.56" height="4.8" fill="#ef5350"/>
<rect x="175.83" y="176.1" width="1.05" height="23.2" fill="#ef5350"/>
<rect x="174.57" y="178.7" width="3.56" height="7.3" fill="#ef5350"/>
<rect x="171.09" y="130" width="1.05" height="63.8" fill="#ef5350"/>
<rect x="169.83" y="130" width="3.56" height="53.6" fill="#ef5350"/>
<rect x="166.35" y="117.5" width="1.05" height="24" fill="#26a69a"/>
<rect x="165.09" y="129.5" width="3.56" height="6.4" fill="#26a69a"/>
<rect x="161.61" y="123" width="1.05" height="26.5" fill="#ef5350"/>
<rect x="160.35" y="127.5" width="3.56" height="10.4" fill="#ef5350"/>
<rect x="156.86" y="112" width="1.05" height="20" fill="#ef5350"/>
<rect x="155.61" y="116" width="3.56" height="10" fill="#ef5350"/>
<rect x="152.12" y="96.3" width="1.05" height="27.2" fill="#ef5350"/>
<rect x="150.87" y="103" width="3.56" height="18" fill="#ef5350"/>
<rect x="147.38" y="91.9" width="1.05" height="14.4" fill="#ef5350"/>
<rect x="146.13" y="93.9" width="3.56" height="7.6" fill="#ef5350"/>
<rect x="142.64" y="84.9" width="1.05" height="23" fill="#26a69a"/>
<rect x="141.39" y="90.5" width="3.56" height="11" fill="#26a69a"/>
<rect x="137.9" y="88.9" width="1.05" height="17" fill="#ef5350"/>
<rect x="136.65" y="95.3" width="3.56" height="8.2" fill="#ef5350"/>
<rect x="133.16" y="74" width="1.05" height="24.5" fill="#ef5350"/>
<rect x="131.91" y="81" width="3.56" height="15.9" fill="#ef5350"/>
<rect x="128.42" y="60" width="1.05" height="51.9" fill="#26a69a"/>
<rect x="127.17" y="84" width="3.56" height="12.3" fill="#26a69a"/>
<rect x="123.68" y="84" width="1.05" height="64.9" fill="#26a69a"/>
<rect x="122.43" y="105" width="3.56" height="42.7" fill="#26a69a"/>
<rect x="118.94" y="142" width="1.05" height="18.8" fill="#ef5350"/>
<rect x="117.69" y="142.9" width="3.56" height="8.8" fill="#ef5350"/>
<rect x="114.2" y="92.3" width="1.05" height="63.6" fill="#ef5350"/>
<rect x="112.95" y="103.5" width="3.56" height="44" fill="#ef5350"/>
<rect x="109.46" y="124.3" width="1.05" height="37.1" fill="#26a69a"/>
<rect x="108.21" y="130" width="3.56" height="29.6" fill="#26a69a"/>
<rect x="104.72" y="159.4" width="1.05" height="10" fill="#26a69a"/>
<rect x="103.47" y="161.4" width="3.56" height="4.6" fill="#26a69a"/>
<rect x="99.98" y="156.3" width="1.05" height="19.1" fill="#26a69a"/>
<rect x="98.73" y="167.3" width="3.56" height="5.5" fill="#26a69a"/>
<rect x="95.24" y="165.8" width="1.05" height="17" fill="#ef5350"/>
<rect x="93.99" y="171.3" width="3.56" height="2.5" fill="#ef5350"/>
<rect x="90.5" y="146.9" width="1.05" height="31.9" fill="#ef5350"/>
<rect x="89.24" y="155.5" width="3.56" height="17" fill="#ef5350"/>
<rect x="85.76" y="141.3" width="1.05" height="22.2" fill="#ef5350"/>
<rect x="84.5" y="150.9" width="3.56" height="11.4" fill="#ef5350"/>
<rect x="81.02" y="148.9" width="1.05" height="19.1" fill="#26a69a"/>
<rect x="79.76" y="153.9" width="3.56" height="13.6" fill="#26a69a"/>
<rect x="76.28" y="143" width="1.05" height="22.5" fill="#ef5350"/>
<rect x="75.02" y="144.3" width="3.56" height="20" fill="#ef5350"/>
<rect x="71.54" y="137.3" width="1.05" height="33.6" fill="#26a69a"/>
<rect x="70.28" y="144.5" width="3.56" height="9.8" fill="#26a69a"/>
<rect x="66.8" y="156.9" width="1.05" height="45.4" fill="#26a69a"/>
<rect x="65.54" y="160.9" width="3.56" height="41" fill="#26a69a"/>
<rect x="62.05" y="191" width="1.05" height="14.5" fill="#ef5350"/>
<rect x="60.8" y="191.9" width="3.56" height="8" fill="#ef5350"/>
<rect x="57.31" y="189.3" width="1.05" height="8.7" fill="#26a69a"/>
<rect x="56.06" y="196.3" width="3.56" height="1.2" fill="#26a69a"/>
<rect x="52.57" y="188.5" width="1.05" height="9.4" fill="#ef5350"/>
<rect x="51.32" y="188.5" width="3.56" height="6.4" fill="#ef5350"/>
<rect x="47.83" y="187.5" width="1.05" height="14.4" fill="#26a69a"/>
<rect x="46.58" y="189.5" width="3.56" height="5.4" fill="#26a69a"/>
<rect x="43.09" y="164.9" width="1.05" height="44.5" fill="#ef5350"/>
<rect x="41.84" y="178.3" width="3.56" height="16.6" fill="#ef5350"/>
<rect x="38.35" y="170.3" width="1.05" height="9.6" fill="#26a69a"/>
<rect x="37.1" y="174.9" width="3.56" height="1.4" fill="#26a69a"/>
<rect x="33.61" y="162.3" width="1.05" height="12.6" fill="#ef5350"/>
<rect x="32.36" y="163.9" width="3.56" height="10" fill="#ef5350"/>
<rect x="28.87" y="160.5" width="1.05" height="13.4" fill="#26a69a"/>
<rect x="27.62" y="163.9" width="3.56" height="7" fill="#26a69a"/>
<rect x="24.13" y="158.9" width="1.05" height="22.1" fill="#26a69a"/>
<rect x="22.88" y="167.9" width="3.56" height="12.6" fill="#26a69a"/>
<rect x="19.39" y="174.3" width="1.05" height="7.6" fill="#26a69a"/>
<rect x="18.14" y="175.5" width="3.56" height="2.4" fill="#26a69a"/>
<rect x="14.65" y="176.5" width="1.05" height="6.4" fill="#26a69a"/>
<rect x="13.4" y="178.5" width="3.56" height="2.4" fill="#26a69a"/>
<rect x="9.91" y="174.9" width="1.05" height="8.1" fill="#ef5350"/>
<rect x="8.66" y="174.9" width="3.56" height="6.6" fill="#ef5350"/>
</g>
<clipPath id="ch"><rect x="10.7" y="370" width="1286" height="114"/></clipPath>
<g clip-path="url(#ch)">
<rect x="8.65" y="439.1" width="3.56" height="9.44" fill="#ff5252"/>
<rect x="13.39" y="439.1" width="3.56" height="10.64" fill="#ff5252"/>
<rect x="18.14" y="439.1" width="3.56" height="10.12" fill="#ffcdd2"/>
<rect x="22.88" y="439.1" width="3.56" height="9.44" fill="#ffcdd2"/>
<rect x="27.62" y="439.1" width="3.56" height="8.06" fill="#ffcdd2"/>
<rect x="32.36" y="439.1" width="3.56" height="7.38" fill="#ffcdd2"/>
<rect x="37.1" y="439.1" width="3.56" height="6.86" fill="#ffcdd2"/>
<rect x="41.84" y="439.1" width="3.56" height="8.06" fill="#ff5252"/>
<rect x="46.58" y="439.1" width="3.56" height="7.72" fill="#ffcdd2"/>
<rect x="51.32" y="439.1" width="3.56" height="7.55" fill="#ffcdd2"/>
<rect x="56.06" y="439.1" width="3.56" height="7.21" fill="#ffcdd2"/>
<rect x="60.8" y="439.1" width="3.56" height="6.69" fill="#ffcdd2"/>
<rect x="65.54" y="439.1" width="3.56" height="3.77" fill="#ffcdd2"/>
<rect x="70.28" y="437.38" width="3.56" height="1.72" fill="#26a69a"/>
<rect x="75.02" y="436.53" width="3.56" height="2.57" fill="#26a69a"/>
<rect x="79.76" y="435.15" width="3.56" height="3.95" fill="#26a69a"/>
<rect x="84.5" y="435.67" width="3.56" height="3.43" fill="#b2dfdb"/>
<rect x="89.24" y="436.87" width="3.56" height="2.23" fill="#b2dfdb"/>
<rect x="93.98" y="438.07" width="3.56" height="1.03" fill="#b2dfdb"/>
<rect x="98.72" y="438.41" width="3.56" height="0.69" fill="#b2dfdb"/>
<rect x="103.46" y="438.07" width="3.56" height="1.03" fill="#26a69a"/>
<rect x="108.2" y="433.09" width="3.56" height="6.01" fill="#26a69a"/>
<rect x="112.95" y="433.09" width="3.56" height="6.01" fill="#26a69a"/>
<rect x="117.69" y="434.3" width="3.56" height="4.8" fill="#b2dfdb"/>
<rect x="122.43" y="427.43" width="3.56" height="11.67" fill="#26a69a"/>
<rect x="127.17" y="418.51" width="3.56" height="20.59" fill="#26a69a"/>
<rect x="131.91" y="417.14" width="3.56" height="21.96" fill="#26a69a"/>
<rect x="136.65" y="419.71" width="3.56" height="19.39" fill="#b2dfdb"/>
<rect x="141.39" y="419.2" width="3.56" height="19.9" fill="#26a69a"/>
<rect x="146.13" y="422.8" width="3.56" height="16.3" fill="#b2dfdb"/>
<rect x="150.87" y="429.49" width="3.56" height="9.61" fill="#b2dfdb"/>
<rect x="155.61" y="436.01" width="3.56" height="3.09" fill="#b2dfdb"/>
<rect x="160.35" y="439.1" width="3.56" height="3.77" fill="#ff5252"/>
<rect x="165.09" y="439.1" width="3.56" height="6.86" fill="#ff5252"/>
<rect x="169.83" y="439.1" width="3.56" height="14.58" fill="#ff5252"/>
<rect x="174.57" y="439.1" width="3.56" height="20.08" fill="#ff5252"/>
<rect x="179.31" y="439.1" width="3.56" height="22.31" fill="#ff5252"/>
<rect x="184.05" y="439.1" width="3.56" height="22.31" fill="#ffcdd2"/>
<rect x="188.79" y="439.1" width="3.56" height="20.42" fill="#ffcdd2"/>
<rect x="193.53" y="439.1" width="3.56" height="16.64" fill="#ffcdd2"/>
<rect x="198.27" y="439.1" width="3.56" height="10.64" fill="#ffcdd2"/>
<rect x="203.01" y="439.1" width="3.56" height="6.35" fill="#ffcdd2"/>
<rect x="207.76" y="439.1" width="3.56" height="3.77" fill="#ffcdd2"/>
<rect x="212.5" y="439.1" width="3.56" height="2.57" fill="#ffcdd2"/>
<rect x="217.24" y="439.1" width="3.56" height="0.86" fill="#ffcdd2"/>
<rect x="221.98" y="438.24" width="3.56" height="0.86" fill="#26a69a"/>
<rect x="226.72" y="438.07" width="3.56" height="1.03" fill="#26a69a"/>
<rect x="231.46" y="439.1" width="3.56" height="1.54" fill="#ff5252"/>
<rect x="236.2" y="439.1" width="3.56" height="2.57" fill="#ff5252"/>
<rect x="240.94" y="439.1" width="3.56" height="3.77" fill="#ff5252"/>
<rect x="245.68" y="439.1" width="3.56" height="5.49" fill="#ff5252"/>
<rect x="250.42" y="439.1" width="3.56" height="6.35" fill="#ff5252"/>
<rect x="255.16" y="439.1" width="3.56" height="6.69" fill="#ff5252"/>
<rect x="259.9" y="439.1" width="3.56" height="5.49" fill="#ffcdd2"/>
<rect x="264.64" y="439.1" width="3.56" height="3.77" fill="#ffcdd2"/>
<rect x="269.38" y="439.1" width="3.56" height="1.54" fill="#ffcdd2"/>
<rect x="274.12" y="439.1" width="3.56" height="0.86" fill="#ffcdd2"/>
<rect x="278.86" y="438.24" width="3.56" height="0.86" fill="#26a69a"/>
<rect x="283.6" y="437.21" width="3.56" height="1.89" fill="#26a69a"/>
<rect x="288.34" y="438.5" width="3.56" height="0.6" fill="#b2dfdb"/>
<rect x="293.08" y="424" width="3.56" height="15.1" fill="#26a69a"/>
<rect x="297.83" y="421.43" width="3.56" height="17.67" fill="#26a69a"/>
<rect x="302.57" y="420.05" width="3.56" height="19.05" fill="#26a69a"/>
<rect x="307.31" y="417.14" width="3.56" height="21.96" fill="#26a69a"/>
<rect x="312.05" y="417.99" width="3.56" height="21.11" fill="#b2dfdb"/>
<rect x="316.79" y="423.49" width="3.56" height="15.61" fill="#b2dfdb"/>
<rect x="321.53" y="429.49" width="3.56" height="9.61" fill="#b2dfdb"/>
<rect x="326.27" y="434.81" width="3.56" height="4.29" fill="#b2dfdb"/>
<rect x="331.01" y="436.53" width="3.56" height="2.57" fill="#b2dfdb"/>
<rect x="335.75" y="439.1" width="3.56" height="0.86" fill="#ff5252"/>
<rect x="340.49" y="439.1" width="3.56" height="3.77" fill="#ff5252"/>
<rect x="345.23" y="439.1" width="3.56" height="6.35" fill="#ff5252"/>
<rect x="349.97" y="439.1" width="3.56" height="13.21" fill="#ff5252"/>
<rect x="354.71" y="439.1" width="3.56" height="17.16" fill="#ff5252"/>
<rect x="359.45" y="439.1" width="3.56" height="18.7" fill="#ff5252"/>
<rect x="364.19" y="439.1" width="3.56" height="19.56" fill="#ff5252"/>
<rect x="368.93" y="439.1" width="3.56" height="20.08" fill="#ff5252"/>
<rect x="373.67" y="439.1" width="3.56" height="20.59" fill="#ff5252"/>
<rect x="378.41" y="439.1" width="3.56" height="19.22" fill="#ffcdd2"/>
<rect x="383.15" y="439.1" width="3.56" height="16.64" fill="#ffcdd2"/>
<rect x="387.89" y="439.1" width="3.56" height="14.58" fill="#ffcdd2"/>
<rect x="392.63" y="439.1" width="3.56" height="12.35" fill="#ffcdd2"/>
<rect x="397.38" y="439.1" width="3.56" height="10.64" fill="#ffcdd2"/>
<rect x="402.12" y="439.1" width="3.56" height="8.92" fill="#ffcdd2"/>
<rect x="406.86" y="439.1" width="3.56" height="7.21" fill="#ffcdd2"/>
<rect x="411.6" y="439.1" width="3.56" height="4.98" fill="#ffcdd2"/>
<rect x="416.34" y="438.5" width="3.56" height="0.6" fill="#26a69a"/>
<rect x="421.08" y="436.01" width="3.56" height="3.09" fill="#26a69a"/>
<rect x="425.82" y="435.15" width="3.56" height="3.95" fill="#26a69a"/>
<rect x="430.56" y="434.3" width="3.56" height="4.8" fill="#26a69a"/>
<rect x="435.3" y="433.44" width="3.56" height="5.66" fill="#26a69a"/>
<rect x="440.04" y="432.06" width="3.56" height="7.04" fill="#26a69a"/>
<rect x="444.78" y="431.21" width="3.56" height="7.89" fill="#26a69a"/>
<rect x="449.52" y="430.86" width="3.56" height="8.24" fill="#26a69a"/>
<rect x="454.26" y="431.21" width="3.56" height="7.89" fill="#b2dfdb"/>
<rect x="459" y="432.06" width="3.56" height="7.04" fill="#b2dfdb"/>
<rect x="463.74" y="433.27" width="3.56" height="5.83" fill="#b2dfdb"/>
<rect x="468.48" y="434.12" width="3.56" height="4.98" fill="#b2dfdb"/>
<rect x="473.22" y="436.01" width="3.56" height="3.09" fill="#b2dfdb"/>
<rect x="477.96" y="437.38" width="3.56" height="1.72" fill="#b2dfdb"/>
<rect x="482.7" y="438.5" width="3.56" height="0.6" fill="#b2dfdb"/>
<rect x="487.44" y="438.07" width="3.56" height="1.03" fill="#26a69a"/>
<rect x="492.19" y="436.87" width="3.56" height="2.23" fill="#26a69a"/>
<rect x="496.93" y="436.01" width="3.56" height="3.09" fill="#26a69a"/>
<rect x="501.67" y="432.92" width="3.56" height="6.18" fill="#26a69a"/>
<rect x="506.41" y="431.21" width="3.56" height="7.89" fill="#26a69a"/>
<rect x="511.15" y="431.21" width="3.56" height="7.89" fill="#26a69a"/>
<rect x="515.89" y="434.3" width="3.56" height="4.8" fill="#b2dfdb"/>
<rect x="520.63" y="436.01" width="3.56" height="3.09" fill="#b2dfdb"/>
<rect x="525.37" y="437.38" width="3.56" height="1.72" fill="#b2dfdb"/>
<rect x="530.11" y="437.73" width="3.56" height="1.37" fill="#b2dfdb"/>
<rect x="534.85" y="438.24" width="3.56" height="0.86" fill="#b2dfdb"/>
<rect x="539.59" y="439.1" width="3.56" height="1.2" fill="#ff5252"/>
<rect x="544.33" y="439.1" width="3.56" height="1.72" fill="#ff5252"/>
<rect x="549.07" y="439.1" width="3.56" height="2.06" fill="#ff5252"/>
<rect x="553.81" y="439.1" width="3.56" height="2.4" fill="#ff5252"/>
<rect x="558.55" y="439.1" width="3.56" height="2.06" fill="#ffcdd2"/>
<rect x="563.29" y="439.1" width="3.56" height="2.92" fill="#ff5252"/>
<rect x="568.03" y="439.1" width="3.56" height="2.57" fill="#ffcdd2"/>
<rect x="572.77" y="439.1" width="3.56" height="2.57" fill="#ffcdd2"/>
<rect x="577.51" y="439.1" width="3.56" height="3.26" fill="#ff5252"/>
<rect x="582.25" y="439.1" width="3.56" height="3.43" fill="#ff5252"/>
<rect x="587" y="439.1" width="3.56" height="3.77" fill="#ff5252"/>
<rect x="591.74" y="439.1" width="3.56" height="4.63" fill="#ff5252"/>
<rect x="596.48" y="439.1" width="3.56" height="6.35" fill="#ff5252"/>
<rect x="601.22" y="439.1" width="3.56" height="6.35" fill="#ff5252"/>
<rect x="605.96" y="439.1" width="3.56" height="5.49" fill="#ffcdd2"/>
<rect x="610.7" y="439.1" width="3.56" height="4.98" fill="#ffcdd2"/>
<rect x="615.44" y="439.1" width="3.56" height="4.63" fill="#ffcdd2"/>
<rect x="620.18" y="439.1" width="3.56" height="4.12" fill="#ffcdd2"/>
<rect x="624.92" y="439.1" width="3.56" height="3.43" fill="#ffcdd2"/>
<rect x="629.66" y="439.1" width="3.56" height="2.57" fill="#ffcdd2"/>
<rect x="634.4" y="439.1" width="3.56" height="1.89" fill="#ffcdd2"/>
<rect x="639.14" y="439.1" width="3.56" height="1.54" fill="#ffcdd2"/>
<rect x="643.88" y="439.1" width="3.56" height="1.2" fill="#ffcdd2"/>
<rect x="648.62" y="439.1" width="3.56" height="0.86" fill="#ffcdd2"/>
<rect x="653.36" y="439.1" width="3.56" height="0.69" fill="#ffcdd2"/>
<rect x="658.1" y="439.1" width="3.56" height="1.03" fill="#ff5252"/>
<rect x="662.84" y="439.1" width="3.56" height="0.69" fill="#ffcdd2"/>
<rect x="667.58" y="439.1" width="3.56" height="1.03" fill="#ff5252"/>
<rect x="672.32" y="439.1" width="3.56" height="1.54" fill="#ff5252"/>
<rect x="677.06" y="439.1" width="3.56" height="0.86" fill="#ffcdd2"/>
<rect x="681.81" y="438.5" width="3.56" height="0.6" fill="#26a69a"/>
<rect x="686.55" y="436.01" width="3.56" height="3.09" fill="#26a69a"/>
<rect x="691.29" y="434.3" width="3.56" height="4.8" fill="#26a69a"/>
<rect x="696.03" y="434.3" width="3.56" height="4.8" fill="#26a69a"/>
<rect x="700.77" y="434.64" width="3.56" height="4.46" fill="#b2dfdb"/>
<rect x="705.51" y="435.15" width="3.56" height="3.95" fill="#b2dfdb"/>
<rect x="710.25" y="436.01" width="3.56" height="3.09" fill="#b2dfdb"/>
<rect x="714.99" y="436.53" width="3.56" height="2.57" fill="#b2dfdb"/>
<rect x="719.73" y="437.21" width="3.56" height="1.89" fill="#b2dfdb"/>
<rect x="724.47" y="438.07" width="3.56" height="1.03" fill="#b2dfdb"/>
<rect x="729.21" y="438.5" width="3.56" height="0.6" fill="#b2dfdb"/>
<rect x="733.95" y="438.07" width="3.56" height="1.03" fill="#26a69a"/>
<rect x="738.69" y="435.15" width="3.56" height="3.95" fill="#26a69a"/>
<rect x="743.43" y="429.15" width="3.56" height="9.95" fill="#26a69a"/>
<rect x="748.17" y="428.29" width="3.56" height="10.81" fill="#26a69a"/>
<rect x="752.91" y="429.15" width="3.56" height="9.95" fill="#b2dfdb"/>
<rect x="757.65" y="429.66" width="3.56" height="9.44" fill="#b2dfdb"/>
<rect x="762.39" y="431.38" width="3.56" height="7.72" fill="#b2dfdb"/>
<rect x="767.13" y="432.58" width="3.56" height="6.52" fill="#b2dfdb"/>
<rect x="771.88" y="433.44" width="3.56" height="5.66" fill="#b2dfdb"/>
<rect x="776.62" y="433.44" width="3.56" height="5.66" fill="#26a69a"/>
<rect x="781.36" y="435.15" width="3.56" height="3.95" fill="#b2dfdb"/>
<rect x="786.1" y="436.87" width="3.56" height="2.23" fill="#b2dfdb"/>
<rect x="790.84" y="438.24" width="3.56" height="0.86" fill="#b2dfdb"/>
<rect x="795.58" y="439.1" width="3.56" height="0.86" fill="#ff5252"/>
<rect x="800.32" y="439.1" width="3.56" height="1.54" fill="#ff5252"/>
<rect x="805.06" y="439.1" width="3.56" height="3.26" fill="#ff5252"/>
<rect x="809.8" y="439.1" width="3.56" height="4.12" fill="#ff5252"/>
<rect x="814.54" y="439.1" width="3.56" height="4.63" fill="#ff5252"/>
<rect x="819.28" y="439.1" width="3.56" height="4.29" fill="#ffcdd2"/>
<rect x="824.02" y="439.1" width="3.56" height="4.63" fill="#ff5252"/>
<rect x="828.76" y="439.1" width="3.56" height="3.77" fill="#ffcdd2"/>
<rect x="833.5" y="439.1" width="3.56" height="4.63" fill="#ff5252"/>
<rect x="838.24" y="439.1" width="3.56" height="3.26" fill="#ffcdd2"/>
<rect x="842.98" y="439.1" width="3.56" height="2.57" fill="#ffcdd2"/>
<rect x="847.72" y="438.41" width="3.56" height="0.69" fill="#26a69a"/>
<rect x="852.46" y="430.86" width="3.56" height="8.24" fill="#26a69a"/>
<rect x="857.2" y="430.35" width="3.56" height="8.75" fill="#26a69a"/>
<rect x="861.94" y="432.06" width="3.56" height="7.04" fill="#b2dfdb"/>
<rect x="866.68" y="432.06" width="3.56" height="7.04" fill="#b2dfdb"/>
<rect x="871.43" y="430.86" width="3.56" height="8.24" fill="#26a69a"/>
<rect x="876.17" y="432.92" width="3.56" height="6.18" fill="#b2dfdb"/>
<rect x="880.91" y="428.8" width="3.56" height="10.3" fill="#26a69a"/>
<rect x="885.65" y="426.57" width="3.56" height="12.53" fill="#26a69a"/>
<rect x="890.39" y="425.2" width="3.56" height="13.9" fill="#26a69a"/>
<rect x="895.13" y="423.49" width="3.56" height="15.61" fill="#26a69a"/>
<rect x="899.87" y="418.34" width="3.56" height="20.76" fill="#26a69a"/>
<rect x="904.61" y="418.34" width="3.56" height="20.76" fill="#26a69a"/>
<rect x="909.35" y="422.63" width="3.56" height="16.47" fill="#b2dfdb"/>
<rect x="914.09" y="429.49" width="3.56" height="9.61" fill="#b2dfdb"/>
<rect x="918.83" y="436.87" width="3.56" height="2.23" fill="#b2dfdb"/>
<rect x="923.57" y="439.1" width="3.56" height="0.86" fill="#ff5252"/>
<rect x="928.31" y="439.1" width="3.56" height="3.77" fill="#ff5252"/>
<rect x="933.05" y="439.1" width="3.56" height="7.21" fill="#ff5252"/>
<rect x="937.79" y="439.1" width="3.56" height="8.06" fill="#ff5252"/>
<rect x="942.53" y="439.1" width="3.56" height="9.78" fill="#ff5252"/>
<rect x="947.27" y="439.1" width="3.56" height="12.87" fill="#ff5252"/>
<rect x="952.01" y="439.1" width="3.56" height="13.56" fill="#ff5252"/>
<rect x="956.75" y="439.1" width="3.56" height="11.84" fill="#ffcdd2"/>
<rect x="961.5" y="439.1" width="3.56" height="12.35" fill="#ff5252"/>
<rect x="966.24" y="439.1" width="3.56" height="12.7" fill="#ff5252"/>
<rect x="970.98" y="439.1" width="3.56" height="10.64" fill="#ffcdd2"/>
<rect x="975.72" y="439.1" width="3.56" height="9.44" fill="#ffcdd2"/>
<rect x="980.46" y="439.1" width="3.56" height="7.72" fill="#ffcdd2"/>
<rect x="985.2" y="439.1" width="3.56" height="5.49" fill="#ffcdd2"/>
<rect x="989.94" y="439.1" width="3.56" height="3.77" fill="#ffcdd2"/>
<rect x="994.68" y="439.1" width="3.56" height="2.92" fill="#ffcdd2"/>
<rect x="999.42" y="439.1" width="3.56" height="4.98" fill="#ff5252"/>
<rect x="1004.16" y="439.1" width="3.56" height="5.83" fill="#ff5252"/>
<rect x="1008.9" y="439.1" width="3.56" height="6.69" fill="#ff5252"/>
<rect x="1013.64" y="439.1" width="3.56" height="7.21" fill="#ff5252"/>
<rect x="1018.38" y="439.1" width="3.56" height="7.21" fill="#ff5252"/>
<rect x="1023.12" y="439.1" width="3.56" height="6.35" fill="#ffcdd2"/>
<rect x="1027.86" y="439.1" width="3.56" height="7.21" fill="#ff5252"/>
<rect x="1032.6" y="439.1" width="3.56" height="8.06" fill="#ff5252"/>
<rect x="1037.34" y="439.1" width="3.56" height="6.35" fill="#ffcdd2"/>
<rect x="1042.08" y="439.1" width="3.56" height="5.49" fill="#ffcdd2"/>
<rect x="1046.82" y="439.1" width="3.56" height="4.98" fill="#ffcdd2"/>
<rect x="1051.56" y="439.1" width="3.56" height="4.63" fill="#ffcdd2"/>
<rect x="1056.31" y="439.1" width="3.56" height="4.98" fill="#ff5252"/>
<rect x="1061.05" y="439.1" width="3.56" height="5.15" fill="#ff5252"/>
<rect x="1065.79" y="439.1" width="3.56" height="5.49" fill="#ff5252"/>
<rect x="1070.53" y="439.1" width="3.56" height="4.98" fill="#ffcdd2"/>
<rect x="1075.27" y="439.1" width="3.56" height="4.29" fill="#ffcdd2"/>
<rect x="1080.01" y="439.1" width="3.56" height="3.43" fill="#ffcdd2"/>
<rect x="1084.75" y="439.1" width="3.56" height="2.57" fill="#ffcdd2"/>
<rect x="1089.49" y="439.1" width="3.56" height="1.54" fill="#ffcdd2"/>
<rect x="1094.23" y="439.1" width="3.56" height="1.72" fill="#ff5252"/>
<rect x="1098.97" y="439.1" width="3.56" height="2.4" fill="#ff5252"/>
<rect x="1103.71" y="439.1" width="3.56" height="4.12" fill="#ff5252"/>
<rect x="1108.45" y="439.1" width="3.56" height="3.77" fill="#ffcdd2"/>
<rect x="1113.19" y="439.1" width="3.56" height="3.77" fill="#ffcdd2"/>
<rect x="1117.93" y="439.1" width="3.56" height="4.12" fill="#ff5252"/>
<rect x="1122.67" y="439.1" width="3.56" height="4.12" fill="#ff5252"/>
<rect x="1127.41" y="439.1" width="3.56" height="3.43" fill="#ffcdd2"/>
<rect x="1132.15" y="439.1" width="3.56" height="3.43" fill="#ffcdd2"/>
<rect x="1136.89" y="439.1" width="3.56" height="4.12" fill="#ff5252"/>
<rect x="1141.63" y="439.1" width="3.56" height="4.12" fill="#ff5252"/>
<rect x="1146.37" y="439.1" width="3.56" height="3.26" fill="#ffcdd2"/>
<rect x="1151.12" y="439.1" width="3.56" height="2.57" fill="#ffcdd2"/>
<rect x="1155.86" y="439.1" width="3.56" height="2.92" fill="#ffcdd2"/>
<rect x="1160.6" y="439.1" width="3.56" height="2.23" fill="#ffcdd2"/>
<rect x="1165.34" y="439.1" width="3.56" height="1.54" fill="#ffcdd2"/>
<rect x="1170.08" y="438.41" width="3.56" height="0.69" fill="#26a69a"/>
<rect x="1174.82" y="437.9" width="3.56" height="1.2" fill="#26a69a"/>
<rect x="1179.56" y="437.21" width="3.56" height="1.89" fill="#26a69a"/>
<rect x="1184.3" y="436.18" width="3.56" height="2.92" fill="#26a69a"/>
<rect x="1189.04" y="436.18" width="3.56" height="2.92" fill="#26a69a"/>
<rect x="1193.78" y="436.53" width="3.56" height="2.57" fill="#b2dfdb"/>
<rect x="1198.52" y="436.53" width="3.56" height="2.57" fill="#b2dfdb"/>
</g>
<polyline points="10.5,420.81 15.17,423.71 19.92,426.28 24.66,428.68 29.4,430.4 34.14,432.11 38.88,434.34 43.62,436.06 48.36,438.29 53.1,440.35 57.84,442.07 62.58,443.27 67.32,443.78 72.06,442.92 76.8,442.07 81.54,440.86 86.28,440.35 91.02,439.84 95.76,439.49 100.5,439.15 105.24,438.98 109.98,437.78 114.73,436.4 119.47,434.86 124.21,431.77 128.95,426.62 133.69,421.13 138.43,415.47 143.17,410.32 147.91,406.38 152.65,404.32 157.39,403.8 162.13,404.66 166.87,406.38 171.61,410.32 176.35,415.47 181.09,421.48 185.83,427.48 190.57,432.63 195.31,436.06 200.05,438.29 204.79,439.49 209.54,440.35 214.28,440.69 219.02,440.86 223.76,440.86 228.5,440.69 233.24,440.69 237.98,441.04 242.72,442.92 247.46,444.64 252.2,445.84 256.94,446.87 261.68,447.56 266.42,448.24 271.16,448.59 275.9,448.59 280.64,448.24 285.38,447.73 290.12,447.21 294.86,443.44 299.61,437.78 304.35,432.11 309.09,426.62 313.83,422.33 318.57,419.25 323.31,417.19 328.05,416.33 332.79,415.98 337.53,416.33 342.27,417.53 347.01,419.42 351.75,422.85 356.49,427.48 361.23,432.63 365.97,437.78 370.71,442.92 375.45,448.07 380.19,452.7 384.93,456.65 389.67,460.08 394.41,463 399.16,465.23 403.9,466.95 408.64,468.15 413.38,469 418.12,468.66 422.86,467.8 427.6,466.6 432.34,464.89 437.08,463 441.82,460.94 446.56,458.88 451.3,456.99 456.04,455.28 460.78,454.25 465.52,453.05 470.26,452.02 475,451.33 479.74,450.82 484.48,450.47 489.22,450.3 493.97,449.62 498.71,448.59 503.45,446.7 508.19,444.64 512.93,442.92 517.67,441.72 522.41,440.86 527.15,440.35 531.89,440.18 536.63,440.01 541.37,440.18 546.11,440.52 550.85,441.04 555.59,441.55 560.33,442.07 565.07,442.58 569.81,442.92 574.55,443.44 579.29,444.12 584.03,444.98 588.78,446.01 593.52,447.21 598.26,448.93 603,450.3 607.74,451.5 612.48,452.7 617.22,453.73 621.96,454.59 626.7,455.28 631.44,455.79 636.18,456.14 640.92,456.31 645.66,456.48 650.4,456.65 655.14,456.82 659.88,456.99 664.62,457.17 669.36,457.51 674.1,457.68 678.84,457.85 683.59,457.68 688.33,456.99 693.07,455.28 697.81,453.91 702.55,452.88 707.29,451.85 712.03,450.99 716.77,450.3 721.51,449.96 726.25,449.62 730.99,449.44 735.73,449.27 740.47,448.07 745.21,445.5 749.95,442.92 754.69,440.01 759.43,437.43 764.17,435.55 768.91,433.83 773.65,432.63 778.4,431.26 783.14,430.4 787.88,429.71 792.62,429.37 797.36,429.54 802.1,430.05 806.84,430.91 811.58,432.11 816.32,433.14 821.06,434.17 825.8,435.2 830.54,436.23 835.28,437.26 840.02,438.12 844.76,438.63 849.5,438.29 854.24,436.58 858.98,434.34 863.72,432.11 868.46,430.05 873.21,428 877.95,426.11 882.69,423.19 887.43,419.76 892.17,415.81 896.91,411.18 901.65,405.52 906.39,400.03 911.13,397.11 915.87,395.39 920.61,395.39 925.35,395.74 930.09,396.77 934.83,398.83 939.57,400.89 944.31,403.46 949.05,406.38 953.79,409.46 958.53,412.38 963.27,415.47 968.02,418.39 972.76,420.62 977.5,422.33 982.24,423.71 986.98,424.91 991.72,425.77 996.46,426.62 1001.2,427.82 1005.94,429.2 1010.68,430.91 1015.42,432.63 1020.16,434.34 1024.9,435.72 1029.64,437.43 1034.38,439.15 1039.12,440.35 1043.86,441.55 1048.6,442.92 1053.34,444.12 1058.09,445.5 1062.83,446.7 1067.57,448.07 1072.31,449.27 1077.05,450.13 1081.79,450.65 1086.53,451.16 1091.27,451.5 1096.01,452.02 1100.75,452.88 1105.49,453.73 1110.23,454.59 1114.97,455.45 1119.71,456.31 1124.45,457.17 1129.19,458.02 1133.93,458.88 1138.67,459.74 1143.41,460.6 1148.15,461.11 1152.89,461.63 1157.64,461.97 1162.38,462.2 1167.12,462.1 1171.86,462 1176.6,461.6 1181.34,461.1 1186.08,460.6 1190.82,460 1195.56,459.5 1200.3,458.9" fill="none" stroke="#ff6d00" stroke-width="1.1" stroke-linejoin="round"/>
<polyline points="10.5,429.47 15.17,433.49 19.92,435.55 24.66,436.92 29.4,437.26 34.14,438.63 38.88,440.01 43.62,443.78 48.36,445.5 53.1,447.21 57.84,448.93 62.58,450.13 67.32,447.21 72.06,441.72 76.8,439.49 81.54,437.78 86.28,436.92 91.02,437.43 95.76,438.63 100.5,438.63 105.24,437.78 109.98,431.43 114.73,430.05 119.47,429.54 124.21,418.04 128.95,406.03 133.69,399.51 138.43,396.08 143.17,390.93 147.91,390.59 152.65,395.74 157.39,401.4 162.13,408.09 166.87,412.55 171.61,423.19 176.35,432.63 181.09,440.35 185.83,446.36 190.57,450.3 195.31,452.02 200.05,448.93 204.79,446.01 209.54,444.64 214.28,443.78 219.02,442.41 223.76,441.21 228.5,440.35 233.24,441.21 237.98,442.92 242.72,445.5 247.46,448.59 252.2,450.99 256.94,452.7 261.68,452.02 266.42,450.65 271.16,448.93 275.9,448.07 280.64,446.87 285.38,445.84 290.12,446.36 294.86,428.34 299.61,419.76 304.35,413.75 309.09,406.89 313.83,403.46 318.57,406.03 323.31,409.46 328.05,412.9 332.79,414.27 337.53,417.19 342.27,421.13 347.01,424.91 351.75,436.06 356.49,443.78 361.23,450.3 365.97,455.45 370.71,460.94 375.45,465.74 380.19,469.52 384.93,472.09 389.67,473.47 394.41,474.15 399.16,474.5 403.9,474.67 408.64,474.5 413.38,472.95 418.12,467.8 422.86,464.37 427.6,462.14 432.34,459.57 437.08,456.65 441.82,454.08 446.56,452.02 451.3,450.3 456.04,448.59 460.78,447.73 465.52,447.56 470.26,447.56 475,448.07 479.74,449.27 484.48,450.13 489.22,449.27 493.97,446.7 498.71,445.5 503.45,440.35 508.19,437.26 512.93,435.72 517.67,436.92 522.41,438.29 527.15,438.63 531.89,438.63 536.63,439.49 541.37,440.86 546.11,442.07 550.85,442.92 555.59,443.44 560.33,444.12 565.07,444.64 569.81,445.15 574.55,445.84 579.29,447.21 584.03,448.59 588.78,449.79 593.52,451.5 598.26,454.08 603,455.45 607.74,456.31 612.48,457.17 617.22,457.85 621.96,458.19 626.7,458.02 631.44,457.68 636.18,457.34 640.92,457.17 645.66,457.17 650.4,457.34 655.14,457.51 659.88,457.85 664.62,458.02 669.36,458.37 674.1,458.54 678.84,458.37 683.59,456.65 688.33,452.88 693.07,450.3 697.81,448.93 702.55,448.41 707.29,447.73 712.03,447.56 716.77,448.07 721.51,448.59 726.25,448.93 730.99,449.27 735.73,448.41 740.47,443.78 745.21,436.06 749.95,431.77 754.69,429.54 759.43,428.68 764.17,428 768.91,427.65 773.65,426.62 778.4,425.42 783.14,426.28 787.88,427.48 792.62,428.68 797.36,430.05 802.1,431.77 806.84,433.49 811.58,435.2 816.32,436.58 821.06,437.78 825.8,438.98 830.54,440.01 835.28,440.69 840.02,440.69 844.76,440.01 849.5,436.06 854.24,428.34 858.98,425.25 863.72,423.71 868.46,422.33 873.21,419.76 877.95,419.76 882.69,413.75 887.43,407.75 892.17,402.6 896.91,396.6 901.65,386.3 906.39,381.5 911.13,382.01 915.87,387.16 920.61,393.16 925.35,396.6 930.09,400.89 934.83,405.18 939.57,408.61 944.31,412.04 949.05,417.19 953.79,420.62 958.53,422.33 963.27,425.77 968.02,428.85 972.76,430.05 977.5,430.4 982.24,430.4 986.98,429.54 991.72,429.37 996.46,429.2 1001.2,431.77 1005.94,434 1010.68,436.58 1015.42,438.63 1020.16,440.35 1024.9,441.21 1029.64,443.44 1034.38,446.01 1039.12,446.36 1043.86,446.7 1048.6,447.56 1053.34,448.41 1058.09,449.79 1062.83,450.99 1067.57,452.36 1072.31,453.22 1077.05,453.56 1081.79,453.56 1086.53,453.22 1091.27,452.7 1096.01,453.22 1100.75,454.93 1105.49,456.99 1110.23,457.85 1114.97,458.71 1119.71,459.74 1124.45,460.94 1129.19,461.46 1133.93,462.31 1138.67,463.51 1143.41,464.03 1148.15,463.69 1152.89,463.51 1157.64,463 1162.38,462.3 1167.12,461.9 1171.86,461.4 1176.6,460.3 1181.34,459.2 1186.08,458.1 1190.82,457.3 1195.56,456.9 1200.3,457.2" fill="none" stroke="#2962ff" stroke-width="1.1" stroke-linejoin="round"/>
<clipPath id="cs"><rect x="11" y="485" width="1285" height="114"/></clipPath>
<g clip-path="url(#cs)">
<polyline points="10.5,585.24 15.17,583.52 19.92,580.95 24.66,571.51 29.4,567.22 34.14,578.37 38.88,580.09 43.62,579.23 48.36,571.51 53.1,575.8 57.84,577.51 62.58,580.43 67.32,503.73 72.06,508.88 76.8,538.91 81.54,524.32 86.28,537.19 91.02,551.43 95.76,551.43 100.5,543.2 105.24,536.33 109.98,504.59 114.73,555.21 119.47,558.64 124.21,520.89 128.95,522.09 133.69,536.33 138.43,542.34 143.17,530.67 147.91,539.77 152.65,556.92 157.39,560.36 162.13,570.31 166.87,567.22 171.61,586.44 176.35,585.58 181.09,585.58 185.83,583.18 190.57,580.09 195.31,574.08 200.05,549.2 204.79,552.98 209.54,554.69 214.28,551.78 219.02,535.48 223.76,523.98 228.5,530.67 233.24,537.19 237.98,541.48 242.72,559.5 247.46,575.8 252.2,581.46 256.94,582.32 261.68,564.3 266.42,562.07 271.16,549.72 275.9,545.26 280.64,546.11 285.38,538.05 290.12,573.74 294.86,502.02 299.61,535.48 304.35,528.96 309.09,513.51 313.83,520.89 318.57,541.48 323.31,549.2 328.05,556.58 332.79,544.57 337.53,556.07 342.27,558.64 347.01,560.87 351.75,585.75 356.49,586.44 361.23,584.03 365.97,586.09 370.71,589.18 375.45,589.18 380.19,586.61 384.93,585.24 389.67,582.66 394.41,585.75 399.16,585.24 403.9,586.95 408.64,588.32 413.38,585.24 418.12,518.83 422.86,534.62 427.6,549.2 432.34,549.2 437.08,532.9 441.82,520.89 446.56,525.18 451.3,524.32 456.04,525.18 460.78,529.98 465.52,543.54 470.26,545.43 475,550.06 479.74,573.22 484.48,577.51 489.22,552.63 493.97,518.83 498.71,530.33 503.45,496.35 508.19,516.6 512.93,525.18 517.67,562.59 522.41,558.64 527.15,552.63 531.89,547.49 536.63,557.78 541.37,568.93 546.11,566.36 550.85,571.51 555.59,577.51 560.33,578.03 565.07,584.03 569.81,582.15 574.55,581.8 579.29,584.03 584.03,580.6 588.78,585.24 593.52,588.67 598.26,580.95 603,571.51 607.74,564.3 612.48,567.22 617.22,576.14 621.96,576.66 626.7,569.79 631.44,570.14 636.18,574.94 640.92,577.17 645.66,579.74 650.4,587.29 655.14,587.29 659.88,585.24 664.62,580.09 669.36,587.29 674.1,586.09 678.84,576.66 683.59,545.77 688.33,504.25 693.07,536.51 697.81,541.48 702.55,557.44 707.29,554.35 712.03,559.5 716.77,568.08 721.51,576.14 726.25,577.17 730.99,579.23 735.73,571.51 740.47,519.18 745.21,508.54 749.95,560.87 754.69,558.98 759.43,562.93 764.17,564.65 768.91,565.5 773.65,560.36 778.4,556.41 783.14,564.3 787.88,566.88 792.62,566.02 797.36,568.93 802.1,574.6 806.84,587.81 811.58,584.89 816.32,583.86 821.06,572.88 825.8,579.57 830.54,578.03 835.28,588.15 840.02,576.66 844.76,572.71 849.5,515.4 854.24,540.62 858.98,559.5 863.72,564.3 868.46,560.87 873.21,554.01 877.95,560.7 882.69,532.9 887.43,532.04 892.17,524.84 896.91,514.89 901.65,505.96 906.39,512.31 911.13,530.33 915.87,551.78 920.61,560.01 925.35,547.83 930.09,554.69 934.83,566.02 939.57,556.58 944.31,562.07 949.05,587.29 953.79,577.51 958.53,569.28 963.27,578.03 968.02,582.66 972.76,569.79 977.5,555.21 982.24,553.49 986.98,526.9 991.72,534.27 996.46,530.33 1001.2,559.84 1005.94,564.65 1010.68,574.08 1015.42,573.74 1020.16,580.43 1024.9,572.71 1029.64,586.61 1034.38,582.66 1039.12,573.22 1043.86,566.02 1048.6,578.37 1053.34,573.74 1058.09,585.58 1062.83,585.24 1067.57,582.32 1072.31,585.24 1077.05,584.89 1081.79,569.79 1086.53,571.85 1091.27,568.08 1096.01,574.94 1100.75,573.22 1105.49,588.15 1110.23,572.37 1114.97,574.94 1119.71,586.44 1124.45,581.46 1129.19,581.8 1133.93,583.52 1138.67,586.95 1143.41,586.09 1148.15,578.89 1152.89,577.86 1157.64,579.23 1162.38,577.17 1167.12,579.74 1171.86,582.15 1176.6,563.1 1181.34,571.85 1186.08,552.46 1190.82,572.54 1195.56,571.34 1200.3,589.01" fill="none" stroke="#2962ff" stroke-width="1.1" stroke-linejoin="round"/>
<polyline points="10.5,583.52 15.17,581.52 19.92,583.23 24.66,578.66 29.4,573.22 34.14,572.37 38.88,575.23 43.62,579.23 48.36,576.94 53.1,575.51 57.84,574.94 62.58,577.91 67.32,553.89 72.06,531.01 76.8,517.17 81.54,524.04 86.28,533.47 91.02,537.65 95.76,546.69 100.5,548.69 105.24,543.65 109.98,528.04 114.73,532.04 119.47,539.48 124.21,544.91 128.95,533.87 133.69,526.44 138.43,533.59 143.17,536.45 147.91,537.59 152.65,542.45 157.39,552.35 162.13,562.53 166.87,565.96 171.61,574.65 176.35,579.74 181.09,585.86 185.83,584.78 190.57,582.95 195.31,579.12 200.05,567.79 204.79,558.75 209.54,552.29 214.28,553.15 219.02,547.32 223.76,537.08 228.5,530.04 233.24,530.61 237.98,536.45 242.72,546.06 247.46,558.93 252.2,572.25 256.94,579.86 261.68,576.03 266.42,569.56 271.16,558.7 275.9,552.35 280.64,547.03 285.38,543.14 290.12,552.63 294.86,537.94 299.61,537.08 304.35,522.15 309.09,525.98 313.83,521.12 318.57,525.29 323.31,537.19 328.05,549.09 332.79,550.12 337.53,552.41 342.27,553.09 347.01,558.53 351.75,568.42 356.49,577.69 361.23,585.41 365.97,585.52 370.71,586.44 375.45,588.15 380.19,588.32 384.93,587.01 389.67,584.84 394.41,584.55 399.16,584.55 403.9,585.98 408.64,586.84 413.38,586.84 418.12,564.13 422.86,546.23 427.6,534.22 432.34,544.34 437.08,543.77 441.82,534.33 446.56,526.32 451.3,523.46 456.04,524.89 460.78,526.5 465.52,532.9 470.26,539.65 475,546.34 479.74,556.24 484.48,566.93 489.22,567.79 493.97,549.66 498.71,533.93 503.45,515.17 508.19,514.43 512.93,512.71 517.67,534.79 522.41,548.8 527.15,557.95 531.89,552.92 536.63,552.63 541.37,558.07 546.11,564.36 550.85,568.93 555.59,571.79 560.33,575.68 565.07,579.86 569.81,581.4 574.55,582.66 579.29,582.66 584.03,582.15 588.78,583.29 593.52,584.84 598.26,584.95 603,580.37 607.74,572.25 612.48,567.68 617.22,569.22 621.96,573.34 626.7,574.2 631.44,572.19 636.18,571.62 640.92,574.08 645.66,577.29 650.4,581.4 655.14,584.78 659.88,586.61 664.62,584.21 669.36,584.21 674.1,584.49 678.84,583.35 683.59,569.51 688.33,542.22 693.07,528.84 697.81,527.41 702.55,545.14 707.29,551.09 712.03,557.1 716.77,560.64 721.51,567.91 726.25,573.8 730.99,577.51 735.73,575.97 740.47,556.64 745.21,533.07 749.95,529.53 754.69,542.8 759.43,560.93 764.17,562.19 768.91,564.36 773.65,563.5 778.4,560.76 783.14,560.36 787.88,562.53 792.62,565.73 797.36,567.28 802.1,569.85 806.84,577.11 811.58,582.43 816.32,585.52 821.06,580.55 825.8,578.77 830.54,576.83 835.28,581.92 840.02,580.95 844.76,579.17 849.5,554.92 854.24,542.91 858.98,538.51 863.72,554.81 868.46,561.56 873.21,559.73 877.95,558.53 882.69,549.2 887.43,541.88 892.17,529.93 896.91,523.92 901.65,515.23 906.39,511.05 911.13,516.2 915.87,531.47 920.61,547.37 925.35,553.21 930.09,554.18 934.83,556.18 939.57,559.1 944.31,561.56 949.05,568.65 953.79,575.63 958.53,578.03 963.27,574.94 968.02,576.66 972.76,576.83 977.5,569.22 982.24,559.5 986.98,545.2 991.72,538.22 996.46,530.5 1001.2,541.48 1005.94,551.6 1010.68,566.19 1015.42,570.82 1020.16,576.08 1024.9,575.63 1029.64,579.92 1034.38,580.66 1039.12,580.83 1043.86,573.97 1048.6,572.54 1053.34,572.71 1058.09,579.23 1062.83,581.52 1067.57,584.38 1072.31,584.26 1077.05,584.15 1081.79,579.97 1086.53,575.51 1091.27,569.91 1096.01,571.62 1100.75,572.08 1105.49,578.77 1110.23,577.91 1114.97,578.49 1119.71,577.91 1124.45,580.95 1129.19,583.23 1133.93,582.26 1138.67,584.09 1143.41,585.52 1148.15,583.98 1152.89,580.95 1157.64,578.66 1162.38,578.09 1167.12,578.72 1171.86,579.69 1176.6,575 1181.34,572.37 1186.08,562.47 1190.82,565.62 1195.56,565.45 1200.3,577.63" fill="none" stroke="#ff6d00" stroke-width="1.1" stroke-linejoin="round"/>
</g>
<text x="10" y="18.9" font-size="11" fill="#2a2e39" font-weight="normal" text-anchor="start" textLength="344" lengthAdjust="spacingAndGlyphs">crispus9 published on TradingView.com, Apr 25, 2022 10:42 UTC+3</text>
<text x="18.3" y="45.7" font-size="12" fill="#2b2f3a" font-weight="normal" text-anchor="start" textLength="156.3" lengthAdjust="spacingAndGlyphs">Ideanomics, Inc., 1W, NASDAQ</text>
<text x="182.4" y="45.7" font-size="12" fill="#2b2f3a" font-weight="normal" text-anchor="start" textLength="7.2" lengthAdjust="spacingAndGlyphs">O</text>
<text x="189.6" y="45.7" font-size="12" fill="#ef5350" font-weight="normal" text-anchor="start" textLength="34.8" lengthAdjust="spacingAndGlyphs">0.8700</text>
<text x="231.6" y="45.7" font-size="12" fill="#2b2f3a" font-weight="normal" text-anchor="start" textLength="6.9" lengthAdjust="spacingAndGlyphs">H</text>
<text x="238.5" y="45.7" font-size="12" fill="#ef5350" font-weight="normal" text-anchor="start" textLength="35.1" lengthAdjust="spacingAndGlyphs">0.8788</text>
<text x="281" y="45.7" font-size="12" fill="#2b2f3a" font-weight="normal" text-anchor="start" textLength="5.5" lengthAdjust="spacingAndGlyphs">L</text>
<text x="286.5" y="45.7" font-size="12" fill="#ef5350" font-weight="normal" text-anchor="start" textLength="34.5" lengthAdjust="spacingAndGlyphs">0.7602</text>
<text x="329" y="45.7" font-size="12" fill="#2b2f3a" font-weight="normal" text-anchor="start" textLength="6" lengthAdjust="spacingAndGlyphs">C</text>
<text x="335" y="45.7" font-size="12" fill="#ef5350" font-weight="normal" text-anchor="start" textLength="34.6" lengthAdjust="spacingAndGlyphs">0.7617</text>
<text x="18.3" y="62.1" font-size="12" fill="#2b2f3a" font-weight="normal" text-anchor="start" textLength="134.6" lengthAdjust="spacingAndGlyphs">EMA (50, close, 0, SMA, 5)</text>
<text x="161.4" y="62.1" font-size="12" fill="#ea3570" font-weight="normal" text-anchor="start" textLength="32.9" lengthAdjust="spacingAndGlyphs">1.5462</text>
<text x="18" y="389.4" font-size="12" fill="#2b2f3a" font-weight="normal" text-anchor="start" textLength="178" lengthAdjust="spacingAndGlyphs">MACD (12, 26, close, 9, EMA, EMA)</text>
<text x="204" y="389.4" font-size="12" fill="#b2dfdb" font-weight="normal" text-anchor="start" textLength="34.4" lengthAdjust="spacingAndGlyphs">0.0270</text>
<text x="246.3" y="389.4" font-size="12" fill="#2962ff" font-weight="normal" text-anchor="start" textLength="39.4" lengthAdjust="spacingAndGlyphs">−0.2592</text>
<text x="293.8" y="389.4" font-size="12" fill="#ff6d00" font-weight="normal" text-anchor="start" textLength="39.6" lengthAdjust="spacingAndGlyphs">−0.2862</text>
<text x="18" y="504.6" font-size="12" fill="#2b2f3a" font-weight="normal" text-anchor="start" textLength="79.8" lengthAdjust="spacingAndGlyphs">Stoch (14, 1, 3)</text>
<text x="105" y="504.6" font-size="12" fill="#2962ff" font-weight="normal" text-anchor="start" textLength="22.3" lengthAdjust="spacingAndGlyphs">0.35</text>
<text x="135.5" y="504.6" font-size="12" fill="#ff6d00" font-weight="normal" text-anchor="start" textLength="26.3" lengthAdjust="spacingAndGlyphs">12.41</text>
<clipPath id="ca"><rect x="1297" y="26.5" width="94" height="616"/></clipPath>
<g clip-path="url(#ca)">
<text x="1311.5" y="36.8" font-size="20" fill="#232733" font-weight="normal" text-anchor="start" textLength="67.2" lengthAdjust="spacingAndGlyphs">10.0000</text>
<text x="1310" y="115.8" font-size="20" fill="#232733" font-weight="normal" text-anchor="start" textLength="57.8" lengthAdjust="spacingAndGlyphs">4.0000</text>
<text x="1310" y="176.6" font-size="20" fill="#232733" font-weight="normal" text-anchor="start" textLength="57.8" lengthAdjust="spacingAndGlyphs">2.0000</text>
<text x="1310" y="236.5" font-size="20" fill="#232733" font-weight="normal" text-anchor="start" textLength="57.8" lengthAdjust="spacingAndGlyphs">1.0000</text>
<text x="1310" y="315.5" font-size="20" fill="#232733" font-weight="normal" text-anchor="start" textLength="57.8" lengthAdjust="spacingAndGlyphs">0.4000</text>
<text x="1310" y="445.8" font-size="20" fill="#232733" font-weight="normal" text-anchor="start" textLength="57.8" lengthAdjust="spacingAndGlyphs">0.0000</text>
<text x="1310" y="501.5" font-size="20" fill="#232733" font-weight="normal" text-anchor="start" textLength="57.8" lengthAdjust="spacingAndGlyphs">100.00</text>
<text x="1310" y="596.1" font-size="20" fill="#232733" font-weight="normal" text-anchor="start" textLength="37.7" lengthAdjust="spacingAndGlyphs">0.00</text>
</g>
<rect x="1323.5" y="32.5" width="40" height="25" rx="4" fill="#fff" stroke="#e0e3eb" stroke-width="1"/>
<text x="1327.5" y="51.1" font-size="18.3" fill="#232733" font-weight="normal" text-anchor="start" textLength="33" lengthAdjust="spacingAndGlyphs">USD</text>
<path d="M1296.4,205 h78.3 a2,2 0 0 1 2,2 v22.4 a2,2 0 0 1 -2,2 h-78.3 z" fill="#673ab7"/>
<path d="M1296.4,234.3 h78.3 a2,2 0 0 1 2,2 v22.3 a2,2 0 0 1 -2,2 h-78.3 z" fill="#673ab7"/>
<text x="1310" y="225.4" font-size="20" fill="#fff" font-weight="normal" text-anchor="start" textLength="57.8" lengthAdjust="spacingAndGlyphs">1.1366</text>
<text x="1310" y="254.4" font-size="20" fill="#fff" font-weight="normal" text-anchor="start" textLength="57.8" lengthAdjust="spacingAndGlyphs">0.8103</text>
<clipPath id="ct"><rect x="11" y="600" width="1285" height="42"/></clipPath>
<g clip-path="url(#ct)">
<text x="0" y="625" font-size="20.3" fill="#262a35" font-weight="normal" text-anchor="start" textLength="25" lengthAdjust="spacingAndGlyphs">Jul</text>
</g>
<text x="116.55" y="625" font-size="20.3" fill="#1c202b" font-weight="bold" text-anchor="start" textLength="43.5" lengthAdjust="spacingAndGlyphs">2018</text>
<text x="248.5" y="625" font-size="20.3" fill="#262a35" font-weight="normal" text-anchor="start" textLength="25" lengthAdjust="spacingAndGlyphs">Jul</text>
<text x="368.25" y="625" font-size="20.3" fill="#1c202b" font-weight="bold" text-anchor="start" textLength="43.5" lengthAdjust="spacingAndGlyphs">2019</text>
<text x="495" y="625" font-size="20.3" fill="#262a35" font-weight="normal" text-anchor="start" textLength="25" lengthAdjust="spacingAndGlyphs">Jul</text>
<text x="614.05" y="625" font-size="20.3" fill="#1c202b" font-weight="bold" text-anchor="start" textLength="43.5" lengthAdjust="spacingAndGlyphs">2020</text>
<text x="746.5" y="625" font-size="20.3" fill="#262a35" font-weight="normal" text-anchor="start" textLength="25" lengthAdjust="spacingAndGlyphs">Jul</text>
<text x="860.05" y="625" font-size="20.3" fill="#1c202b" font-weight="bold" text-anchor="start" textLength="43.5" lengthAdjust="spacingAndGlyphs">2021</text>
<text x="992.5" y="625" font-size="20.3" fill="#262a35" font-weight="normal" text-anchor="start" textLength="25" lengthAdjust="spacingAndGlyphs">Jul</text>
<text x="1107.55" y="625" font-size="20.3" fill="#1c202b" font-weight="bold" text-anchor="start" textLength="43.5" lengthAdjust="spacingAndGlyphs">2022</text>
<text x="1239" y="625" font-size="20.3" fill="#262a35" font-weight="normal" text-anchor="start" textLength="25" lengthAdjust="spacingAndGlyphs">Jul</text>
<g fill="#1e222d">
<path d="M10,654.3 h8 v9.5 h-4.2 v-6 h-3.8 z"/>
<circle cx="20.5" cy="655.9" r="1.65"/>
<path d="M22.8,654.3 h6.2 l-4,9.5 h-4.5 z"/>
</g>
<text x="32.5" y="663.8" font-size="12.3" fill="#4c4f5a" font-weight="normal" text-anchor="start" textLength="67.5" lengthAdjust="spacingAndGlyphs">TradingView</text>
</g>
</svg>
</body></html>
